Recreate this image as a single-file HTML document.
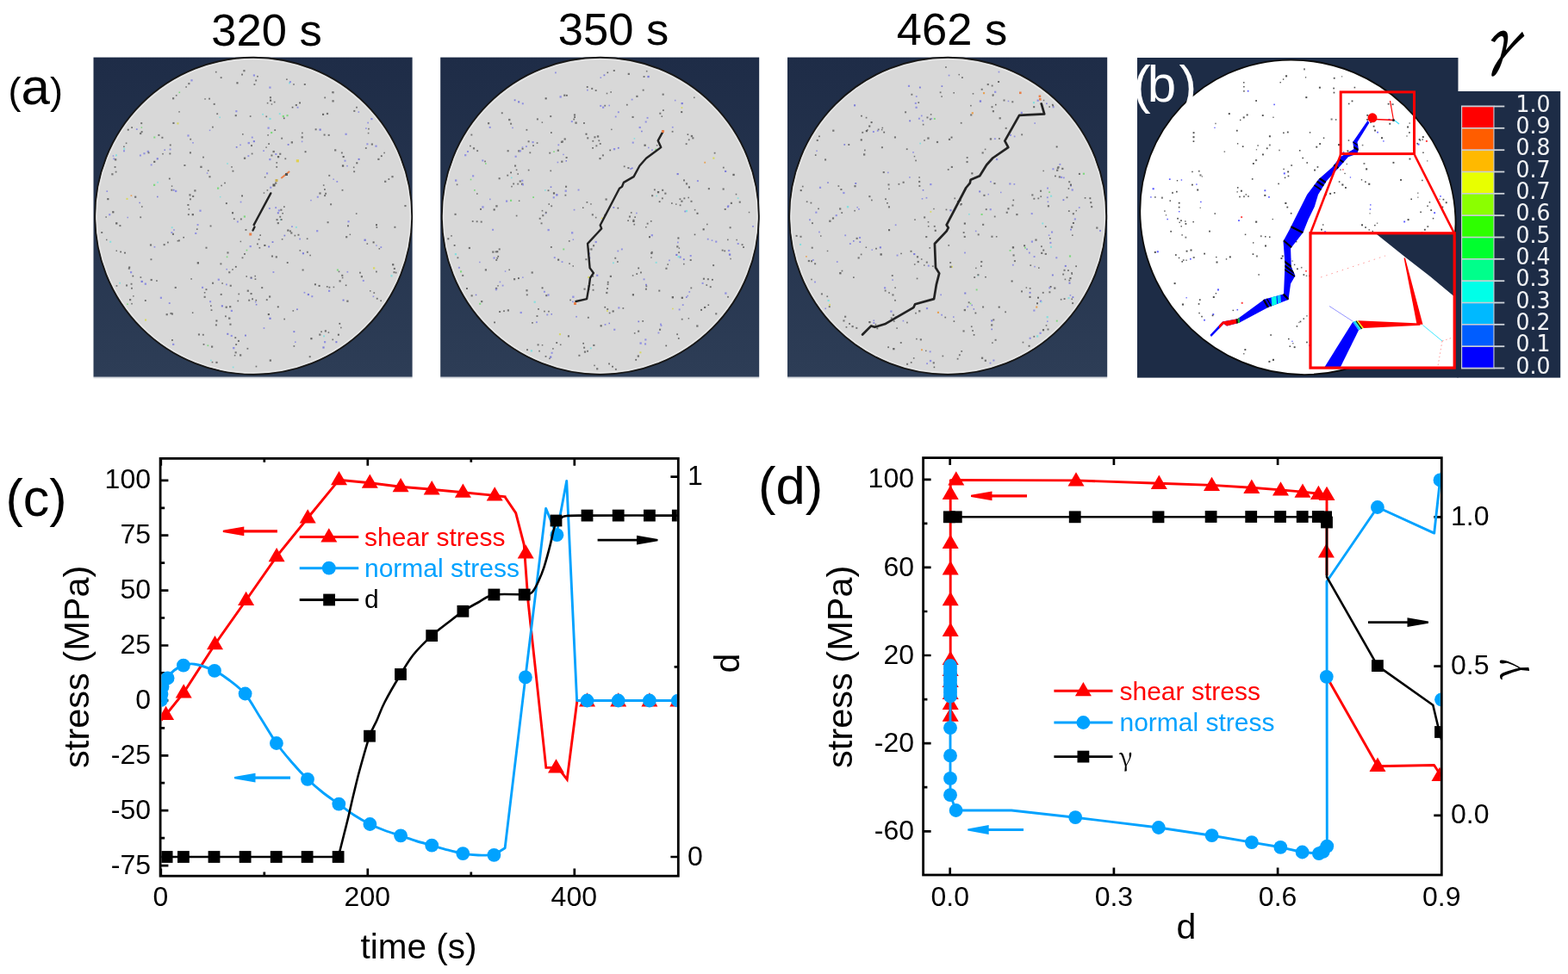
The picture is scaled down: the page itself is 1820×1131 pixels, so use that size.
<!DOCTYPE html>
<html><head><meta charset="utf-8"><title>Crack propagation figure</title>
<style>
html,body{margin:0;padding:0;background:#fff;}
body{width:1820px;height:1131px;overflow:hidden;}
svg{display:block;}
</style></head><body>
<svg width="1820" height="1131" viewBox="0 0 1820 1131">
<defs>
<linearGradient id="bg" x1="0" y1="0" x2="0" y2="1"><stop offset="0" stop-color="#1e2c47"/><stop offset="1" stop-color="#2d3d56"/></linearGradient>
<clipPath id="clipC"><rect x="187.4" y="533.8" width="598.4" height="481.9"/></clipPath>
<clipPath id="clipD"><rect x="1073" y="533" width="598.9" height="481.6"/></clipPath>
<clipPath id="clipB"><rect x="1320" y="67" width="372" height="371.6"/></clipPath>
</defs>
<rect x="0" y="0" width="1820" height="1131" fill="#ffffff"/>
<g font-family="'Liberation Sans', Arial, sans-serif" fill="#000"><text x="309.5" y="52.5" font-size="52.5" text-anchor="middle">320 s</text><text x="712" y="51.5" font-size="52.5" text-anchor="middle">350 s</text><text x="1105" y="51.5" font-size="52.5" text-anchor="middle">462 s</text><text x="9.5" y="120.7"><tspan font-size="45">(</tspan><tspan font-size="60">a</tspan><tspan font-size="45">)</tspan></text></g>
<rect x="108.5" y="437.4" width="370.1" height="2" fill="#d3d6dc"/><rect x="108.5" y="66.6" width="370.1" height="371" fill="url(#bg)"/><circle cx="294.2" cy="250.8" r="184" fill="#d8d8d8" stroke="#161616" stroke-width="1.9"/><circle cx="294.2" cy="250.8" r="182" fill="none" stroke="#e8e8e8" stroke-width="1.2"/><rect x="262.4" y="311.9" width="1.6" height="1.6" fill="#9090e0"/><rect x="145.8" y="165.5" width="1.6" height="1.6" fill="#747474"/><rect x="390.9" y="312.5" width="2" height="2" fill="#7ed87e"/><rect x="254.9" y="227.9" width="1.5" height="1.5" fill="#86dede"/><rect x="353.6" y="175.3" width="1.9" height="1.9" fill="#646464"/><rect x="269.5" y="197.7" width="1.9" height="1.9" fill="#747474"/><rect x="333.3" y="266.5" width="2.1" height="2.1" fill="#646464"/><rect x="337.2" y="269.4" width="2.2" height="2.2" fill="#747474"/><rect x="341.5" y="272.7" width="1.7" height="1.7" fill="#747474"/><rect x="360.3" y="392.1" width="2.2" height="2.2" fill="#646464"/><rect x="281" y="155.1" width="1.6" height="1.6" fill="#747474"/><rect x="199" y="394" width="1.9" height="1.9" fill="#747474"/><rect x="200.1" y="398.8" width="2.2" height="2.2" fill="#9090e0"/><rect x="236.8" y="339" width="1.6" height="1.6" fill="#747474"/><rect x="236.6" y="343.8" width="2.1" height="2.1" fill="#747474"/><rect x="433" y="310.3" width="2.2" height="2.2" fill="#d8d860"/><rect x="436" y="314.6" width="1.8" height="1.8" fill="#747474"/><rect x="280.1" y="226.5" width="1.9" height="1.9" fill="#646464"/><rect x="312" y="343.4" width="2.2" height="2.2" fill="#747474"/><rect x="308.8" y="347.2" width="1.9" height="1.9" fill="#747474"/><rect x="133.7" y="198.7" width="1.8" height="1.8" fill="#747474"/><rect x="129.3" y="201.2" width="2.2" height="2.2" fill="#747474"/><rect x="360.2" y="231.9" width="1.5" height="1.5" fill="#9090e0"/><rect x="330.4" y="183.4" width="1.8" height="1.8" fill="#747474"/><rect x="134" y="179.3" width="2" height="2" fill="#86dede"/><rect x="131.3" y="183.5" width="1.9" height="1.9" fill="#9090e0"/><rect x="413.1" y="123.8" width="1.8" height="1.8" fill="#747474"/><rect x="410.3" y="127.9" width="2" height="2" fill="#747474"/><rect x="335.9" y="267.4" width="2" height="2" fill="#747474"/><rect x="400.8" y="330.5" width="1.6" height="1.6" fill="#646464"/><rect x="321.8" y="355.4" width="1.9" height="1.9" fill="#646464"/><rect x="386.6" y="332.6" width="1.6" height="1.6" fill="#747474"/><rect x="381.5" y="332.8" width="1.8" height="1.8" fill="#747474"/><rect x="278" y="411.3" width="2.3" height="2.3" fill="#747474"/><rect x="197.5" y="362.9" width="2" height="2" fill="#747474"/><rect x="192.6" y="364.1" width="2.2" height="2.2" fill="#747474"/><rect x="124.3" y="230.1" width="2.1" height="2.1" fill="#646464"/><rect x="252.7" y="323.6" width="2.2" height="2.2" fill="#9090e0"/><rect x="287.6" y="164.9" width="2.3" height="2.3" fill="#9090e0"/><rect x="323.8" y="131.2" width="1.9" height="1.9" fill="#86dede"/><rect x="327.7" y="133.9" width="2.3" height="2.3" fill="#7ed87e"/><rect x="396.6" y="219.9" width="1.8" height="1.8" fill="#747474"/><rect x="117.2" y="269" width="2" height="2" fill="#747474"/><rect x="309" y="200.3" width="2.1" height="2.1" fill="#9090e0"/><rect x="306.8" y="204.9" width="1.6" height="1.6" fill="#747474"/><rect x="318.3" y="150.2" width="1.8" height="1.8" fill="#747474"/><rect x="314.1" y="153" width="2.1" height="2.1" fill="#7ed87e"/><rect x="310.3" y="156.1" width="1.6" height="1.6" fill="#747474"/><rect x="391.9" y="387.7" width="2" height="2" fill="#646464"/><rect x="123" y="277.7" width="1.5" height="1.5" fill="#747474"/><rect x="127.2" y="279.8" width="2" height="2" fill="#86dede"/><rect x="123.4" y="221.3" width="1.7" height="1.7" fill="#9090e0"/><rect x="292.1" y="346.3" width="1.9" height="1.9" fill="#747474"/><rect x="295.9" y="349.9" width="1.5" height="1.5" fill="#9090e0"/><rect x="282.3" y="81.1" width="2.2" height="2.2" fill="#747474"/><rect x="280.1" y="85.6" width="1.9" height="1.9" fill="#747474"/><rect x="269" y="246.2" width="2.1" height="2.1" fill="#646464"/><rect x="332.8" y="304.1" width="1.8" height="1.8" fill="#646464"/><rect x="161.4" y="234.7" width="1.5" height="1.5" fill="#7c7cd8"/><rect x="306.3" y="283.9" width="2.1" height="2.1" fill="#646464"/><rect x="311.2" y="285.5" width="1.9" height="1.9" fill="#7c7cd8"/><rect x="196.8" y="167.5" width="1.9" height="1.9" fill="#747474"/><rect x="196.6" y="172.5" width="1.9" height="1.9" fill="#9090e0"/><rect x="196.4" y="177.5" width="1.9" height="1.9" fill="#747474"/><rect x="415.5" y="129.3" width="1.6" height="1.6" fill="#9090e0"/><rect x="378.9" y="332" width="1.7" height="1.7" fill="#747474"/><rect x="272.9" y="308.9" width="1.8" height="1.8" fill="#646464"/><rect x="269.2" y="312.2" width="1.6" height="1.6" fill="#747474"/><rect x="265.2" y="315.2" width="2.1" height="2.1" fill="#747474"/><rect x="432.6" y="343.5" width="1.6" height="1.6" fill="#9090e0"/><rect x="436.8" y="345.8" width="1.9" height="1.9" fill="#747474"/><rect x="441.3" y="348.4" width="1.7" height="1.7" fill="#747474"/><rect x="229.9" y="387.4" width="2.1" height="2.1" fill="#747474"/><rect x="234.9" y="387.8" width="1.9" height="1.9" fill="#747474"/><rect x="244.1" y="417.7" width="1.6" height="1.6" fill="#86dede"/><rect x="289.6" y="285" width="2.2" height="2.2" fill="#9090e0"/><rect x="378.9" y="130.9" width="2.2" height="2.2" fill="#747474"/><rect x="374" y="131.8" width="2.1" height="2.1" fill="#646464"/><rect x="329.5" y="272.7" width="1.7" height="1.7" fill="#7c7cd8"/><rect x="326.8" y="277" width="1.6" height="1.6" fill="#747474"/><rect x="284" y="388.6" width="1.9" height="1.9" fill="#7c7cd8"/><rect x="222.9" y="362.4" width="1.5" height="1.5" fill="#646464"/><rect x="249.9" y="82.8" width="1.7" height="1.7" fill="#747474"/><rect x="255.7" y="340.9" width="2" height="2" fill="#747474"/><rect x="272.6" y="408.3" width="2.1" height="2.1" fill="#747474"/><rect x="219.4" y="225.3" width="2.2" height="2.2" fill="#747474"/><rect x="220" y="230.4" width="1.9" height="1.9" fill="#747474"/><rect x="350" y="153.6" width="1.7" height="1.7" fill="#747474"/><rect x="349.6" y="158.3" width="2.2" height="2.2" fill="#747474"/><rect x="349.8" y="163.6" width="1.6" height="1.6" fill="#9090e0"/><rect x="469.4" y="238" width="2.1" height="2.1" fill="#747474"/><rect x="290.6" y="321.8" width="2" height="2" fill="#7c7cd8"/><rect x="295.6" y="323.3" width="1.7" height="1.7" fill="#747474"/><rect x="261" y="366.4" width="1.8" height="1.8" fill="#747474"/><rect x="265.1" y="368.5" width="2.3" height="2.3" fill="#747474"/><rect x="278.6" y="279.7" width="1.5" height="1.5" fill="#747474"/><rect x="202.7" y="332.9" width="2.1" height="2.1" fill="#747474"/><rect x="429" y="337.1" width="1.5" height="1.5" fill="#747474"/><rect x="433.4" y="339.2" width="1.7" height="1.7" fill="#747474"/><rect x="181.7" y="183.3" width="2.1" height="2.1" fill="#7c7cd8"/><rect x="178.2" y="186.8" width="2.1" height="2.1" fill="#646464"/><rect x="174.7" y="190.5" width="1.9" height="1.9" fill="#9090e0"/><rect x="263.3" y="386.8" width="2" height="2" fill="#7c7cd8"/><rect x="267.7" y="388.9" width="2.1" height="2.1" fill="#9090e0"/><rect x="272.3" y="391.2" width="1.9" height="1.9" fill="#747474"/><rect x="130.2" y="245.2" width="2.2" height="2.2" fill="#646464"/><rect x="126.2" y="248.2" width="2.1" height="2.1" fill="#9090e0"/><rect x="122.4" y="251.3" width="1.5" height="1.5" fill="#747474"/><rect x="364.9" y="329.3" width="2" height="2" fill="#646464"/><rect x="369.6" y="330.9" width="2" height="2" fill="#646464"/><rect x="282.8" y="250.4" width="2.2" height="2.2" fill="#7ed87e"/><rect x="278.9" y="253.5" width="1.9" height="1.9" fill="#747474"/><rect x="274.9" y="256.5" width="1.9" height="1.9" fill="#9090e0"/><rect x="352.8" y="97" width="2" height="2" fill="#747474"/><rect x="134.5" y="290.5" width="1.5" height="1.5" fill="#747474"/><rect x="139.3" y="291.6" width="1.7" height="1.7" fill="#646464"/><rect x="144.1" y="292.7" width="1.8" height="1.8" fill="#646464"/><rect x="207.3" y="129.1" width="1.5" height="1.5" fill="#747474"/><rect x="275.9" y="394.9" width="2.1" height="2.1" fill="#747474"/><rect x="273.2" y="399.1" width="1.9" height="1.9" fill="#747474"/><rect x="270.1" y="403" width="2.3" height="2.3" fill="#9090e0"/><rect x="198.4" y="219.7" width="1.9" height="1.9" fill="#747474"/><rect x="203" y="220.8" width="2.3" height="2.3" fill="#9090e0"/><rect x="205.6" y="278.9" width="1.6" height="1.6" fill="#747474"/><rect x="291.8" y="158.6" width="1.9" height="1.9" fill="#9090e0"/><rect x="293.8" y="163.1" width="2.1" height="2.1" fill="#7c7cd8"/><rect x="312.7" y="417.4" width="2.3" height="2.3" fill="#747474"/><rect x="246" y="146.7" width="1.8" height="1.8" fill="#747474"/><rect x="242.8" y="150.6" width="1.5" height="1.5" fill="#9090e0"/><rect x="293.8" y="86.4" width="2.2" height="2.2" fill="#9090e0"/><rect x="266.1" y="355.1" width="2.2" height="2.2" fill="#747474"/><rect x="267.8" y="359.8" width="2.2" height="2.2" fill="#9090e0"/><rect x="285.6" y="289.7" width="1.7" height="1.7" fill="#7ed87e"/><rect x="283" y="294" width="1.9" height="1.9" fill="#747474"/><rect x="280.6" y="298.4" width="1.8" height="1.8" fill="#747474"/><rect x="454.4" y="204.1" width="2.2" height="2.2" fill="#747474"/><rect x="450.5" y="207.2" width="1.7" height="1.7" fill="#646464"/><rect x="446.1" y="209.7" width="2.2" height="2.2" fill="#747474"/><rect x="174.6" y="323.9" width="2.2" height="2.2" fill="#747474"/><rect x="223.1" y="226.9" width="2.1" height="2.1" fill="#747474"/><rect x="383.1" y="236.3" width="2" height="2" fill="#747474"/><rect x="397.6" y="347.6" width="1.9" height="1.9" fill="#7c7cd8"/><rect x="402.3" y="348.6" width="2.2" height="2.2" fill="#747474"/><rect x="412.9" y="247.3" width="1.6" height="1.6" fill="#747474"/><rect x="198.8" y="215.4" width="1.5" height="1.5" fill="#747474"/><rect x="200.7" y="219.8" width="1.8" height="1.8" fill="#7c7cd8"/><rect x="291" y="168.1" width="2" height="2" fill="#747474"/><rect x="198.8" y="363.4" width="2.2" height="2.2" fill="#747474"/><rect x="185.8" y="344.7" width="2.2" height="2.2" fill="#9090e0"/><rect x="324.9" y="254.2" width="1.9" height="1.9" fill="#86dede"/><rect x="321.7" y="258" width="2.2" height="2.2" fill="#747474"/><rect x="409.9" y="193.5" width="1.6" height="1.6" fill="#747474"/><rect x="410.2" y="198.3" width="1.9" height="1.9" fill="#747474"/><rect x="221.4" y="92.2" width="2.2" height="2.2" fill="#9090e0"/><rect x="218.3" y="96.1" width="2.1" height="2.1" fill="#747474"/><rect x="215.3" y="100.2" width="1.6" height="1.6" fill="#747474"/><rect x="261.9" y="235.2" width="1.9" height="1.9" fill="#646464"/><rect x="149.2" y="309.5" width="2" height="2" fill="#646464"/><rect x="228.7" y="304.2" width="2.3" height="2.3" fill="#646464"/><rect x="275.4" y="348.6" width="1.7" height="1.7" fill="#747474"/><rect x="296.6" y="424.7" width="1.7" height="1.7" fill="#747474"/><rect x="400.5" y="154.7" width="2.2" height="2.2" fill="#9090e0"/><rect x="298" y="282.5" width="1.8" height="1.8" fill="#747474"/><rect x="300.5" y="286.9" width="1.7" height="1.7" fill="#747474"/><rect x="319.1" y="211.5" width="2.2" height="2.2" fill="#747474"/><rect x="303.2" y="333.1" width="2" height="2" fill="#747474"/><rect x="163.2" y="142.1" width="2" height="2" fill="#747474"/><rect x="163.6" y="147.3" width="1.5" height="1.5" fill="#7ed87e"/><rect x="163.6" y="152.1" width="2" height="2" fill="#747474"/><rect x="163.6" y="325.8" width="2.2" height="2.2" fill="#7c7cd8"/><rect x="167.7" y="328.5" width="2.3" height="2.3" fill="#9090e0"/><rect x="386.4" y="207.4" width="1.5" height="1.5" fill="#9090e0"/><rect x="390.4" y="210" width="1.8" height="1.8" fill="#9090e0"/><rect x="221.3" y="323.1" width="1.6" height="1.6" fill="#747474"/><rect x="146" y="330.4" width="2.1" height="2.1" fill="#747474"/><rect x="235.6" y="399" width="1.8" height="1.8" fill="#747474"/><rect x="240.5" y="400.4" width="1.7" height="1.7" fill="#7ed87e"/><rect x="245" y="401.5" width="2.2" height="2.2" fill="#747474"/><rect x="405.6" y="271.6" width="1.5" height="1.5" fill="#747474"/><rect x="401.1" y="274.1" width="2.2" height="2.2" fill="#747474"/><rect x="286.5" y="403.9" width="1.8" height="1.8" fill="#747474"/><rect x="329" y="239.3" width="1.7" height="1.7" fill="#747474"/><rect x="325.3" y="242.7" width="2.1" height="2.1" fill="#747474"/><rect x="321.8" y="246.3" width="2" height="2" fill="#7c7cd8"/><rect x="319.2" y="240.2" width="1.9" height="1.9" fill="#9090e0"/><rect x="322.8" y="243.4" width="2.1" height="2.1" fill="#9090e0"/><rect x="430.8" y="166.5" width="2.1" height="2.1" fill="#747474"/><rect x="435.4" y="168.6" width="2.2" height="2.2" fill="#9090e0"/><rect x="312.9" y="112.2" width="2.1" height="2.1" fill="#747474"/><rect x="188.2" y="177.9" width="1.6" height="1.6" fill="#747474"/><rect x="422.5" y="277.6" width="2.3" height="2.3" fill="#7c7cd8"/><rect x="425.5" y="282.3" width="1.6" height="1.6" fill="#747474"/><rect x="396.8" y="321.7" width="1.6" height="1.6" fill="#747474"/><rect x="393.5" y="325.3" width="2.2" height="2.2" fill="#747474"/><rect x="305.6" y="380.2" width="1.7" height="1.7" fill="#9090e0"/><rect x="276.4" y="340.6" width="1.7" height="1.7" fill="#747474"/><rect x="295.4" y="319.8" width="1.6" height="1.6" fill="#747474"/><rect x="290.7" y="321.5" width="1.7" height="1.7" fill="#747474"/><rect x="151.6" y="226.4" width="1.6" height="1.6" fill="#e8a050"/><rect x="156.1" y="227.6" width="2.2" height="2.2" fill="#747474"/><rect x="385.2" y="106.4" width="1.5" height="1.5" fill="#747474"/><rect x="162.1" y="153.9" width="2.2" height="2.2" fill="#747474"/><rect x="206.9" y="278.4" width="2" height="2" fill="#747474"/><rect x="232.3" y="192.7" width="2.3" height="2.3" fill="#747474"/><rect x="441.4" y="286.2" width="1.8" height="1.8" fill="#9090e0"/><rect x="195.8" y="351.1" width="1.9" height="1.9" fill="#9090e0"/><rect x="345.5" y="271.8" width="1.9" height="1.9" fill="#747474"/><rect x="347.2" y="276.6" width="1.8" height="1.8" fill="#9090e0"/><rect x="269.8" y="425.6" width="1.7" height="1.7" fill="#86dede"/><rect x="195.9" y="206.6" width="1.8" height="1.8" fill="#646464"/><rect x="150" y="347" width="2.2" height="2.2" fill="#747474"/><rect x="154.1" y="343.1" width="1.5" height="1.5" fill="#747474"/><rect x="393.4" y="374.9" width="1.8" height="1.8" fill="#646464"/><rect x="395" y="379.7" width="1.6" height="1.6" fill="#747474"/><rect x="266.4" y="375.6" width="2.1" height="2.1" fill="#747474"/><rect x="335.1" y="95.5" width="1.9" height="1.9" fill="#86dede"/><rect x="455.1" y="306.2" width="2.2" height="2.2" fill="#646464"/><rect x="456.8" y="310.9" width="2.1" height="2.1" fill="#747474"/><rect x="458.7" y="315.7" width="1.8" height="1.8" fill="#747474"/><rect x="385.4" y="116.2" width="2.3" height="2.3" fill="#747474"/><rect x="352.6" y="338.9" width="1.7" height="1.7" fill="#9090e0"/><rect x="356.8" y="340.9" width="2.2" height="2.2" fill="#7c7cd8"/><rect x="361.3" y="343.2" width="2" height="2" fill="#9090e0"/><rect x="243.1" y="349.2" width="2" height="2" fill="#9090e0"/><rect x="244" y="354.3" width="1.7" height="1.7" fill="#747474"/><rect x="244.6" y="359.2" width="1.8" height="1.8" fill="#747474"/><rect x="217.9" y="248.2" width="1.9" height="1.9" fill="#747474"/><rect x="222.7" y="248.1" width="2.2" height="2.2" fill="#646464"/><rect x="376.3" y="112.5" width="1.8" height="1.8" fill="#747474"/><rect x="392.7" y="314.6" width="1.6" height="1.6" fill="#747474"/><rect x="381.3" y="202.9" width="1.9" height="1.9" fill="#747474"/><rect x="168" y="370.5" width="2.1" height="2.1" fill="#d8d860"/><rect x="324.2" y="177.7" width="2.1" height="2.1" fill="#747474"/><rect x="319.3" y="178" width="2" height="2" fill="#9090e0"/><rect x="278.2" y="167.5" width="1.6" height="1.6" fill="#9090e0"/><rect x="273.8" y="170" width="1.7" height="1.7" fill="#7c7cd8"/><rect x="320.4" y="188.1" width="1.7" height="1.7" fill="#747474"/><rect x="320.3" y="193" width="1.8" height="1.8" fill="#747474"/><rect x="367.1" y="267.1" width="2.2" height="2.2" fill="#9090e0"/><rect x="370.2" y="387.5" width="2.2" height="2.2" fill="#747474"/><rect x="375.1" y="389.4" width="1.9" height="1.9" fill="#86dede"/><rect x="146.5" y="229.9" width="2" height="2" fill="#d8d860"/><rect x="167.9" y="348.1" width="1.8" height="1.8" fill="#646464"/><rect x="304.2" y="131.9" width="1.7" height="1.7" fill="#86dede"/><rect x="308.4" y="134.5" width="1.7" height="1.7" fill="#747474"/><rect x="312.4" y="136.9" width="2.2" height="2.2" fill="#86dede"/><rect x="445.3" y="176.7" width="1.6" height="1.6" fill="#747474"/><rect x="441.9" y="180.3" width="1.8" height="1.8" fill="#646464"/><rect x="438.3" y="183.8" width="2.2" height="2.2" fill="#747474"/><rect x="350.6" y="312.5" width="2" height="2" fill="#747474"/><rect x="250.4" y="371.5" width="2" height="2" fill="#646464"/><rect x="249.9" y="376.4" width="2" height="2" fill="#747474"/><rect x="228.6" y="260.1" width="1.9" height="1.9" fill="#9090e0"/><rect x="355.8" y="276.4" width="1.7" height="1.7" fill="#747474"/><rect x="436" y="260.2" width="2" height="2" fill="#646464"/><rect x="190.5" y="173.4" width="1.5" height="1.5" fill="#7c7cd8"/><rect x="182" y="227.7" width="1.6" height="1.6" fill="#7c7cd8"/><rect x="183.4" y="155.9" width="2" height="2" fill="#747474"/><rect x="187.4" y="158.8" width="2" height="2" fill="#747474"/><rect x="321.9" y="181" width="2.3" height="2.3" fill="#646464"/><rect x="273.3" y="128.1" width="2.1" height="2.1" fill="#9090e0"/><rect x="272.7" y="133.1" width="2.1" height="2.1" fill="#747474"/><rect x="212.4" y="274.9" width="1.6" height="1.6" fill="#646464"/><rect x="426.3" y="141.7" width="1.7" height="1.7" fill="#9090e0"/><rect x="182.2" y="210.9" width="1.7" height="1.7" fill="#86dede"/><rect x="178" y="213.7" width="2.2" height="2.2" fill="#7ed87e"/><rect x="402.5" y="314.9" width="1.7" height="1.7" fill="#9090e0"/><rect x="385.4" y="393.5" width="1.7" height="1.7" fill="#747474"/><rect x="389.4" y="396.2" width="2" height="2" fill="#7c7cd8"/><rect x="242.1" y="113.7" width="1.9" height="1.9" fill="#747474"/><rect x="237.3" y="114.2" width="1.5" height="1.5" fill="#747474"/><rect x="376.1" y="226.1" width="2" height="2" fill="#747474"/><rect x="225.3" y="220.3" width="2.2" height="2.2" fill="#747474"/><rect x="255.4" y="305.4" width="2" height="2" fill="#747474"/><rect x="338.1" y="262.3" width="1.7" height="1.7" fill="#9090e0"/><rect x="342.9" y="262.9" width="1.9" height="1.9" fill="#86dede"/><rect x="207.5" y="106.5" width="1.6" height="1.6" fill="#7ed87e"/><rect x="203.9" y="110" width="1.6" height="1.6" fill="#747474"/><rect x="200" y="113.2" width="2.2" height="2.2" fill="#747474"/><rect x="347.1" y="118.5" width="1.9" height="1.9" fill="#646464"/><rect x="342.8" y="121" width="2.1" height="2.1" fill="#747474"/><rect x="338.7" y="123.8" width="1.7" height="1.7" fill="#646464"/><rect x="246" y="327.7" width="2.1" height="2.1" fill="#747474"/><rect x="425.4" y="166.3" width="2" height="2" fill="#9090e0"/><rect x="423.9" y="171.1" width="1.8" height="1.8" fill="#747474"/><rect x="148.8" y="310.8" width="2" height="2" fill="#747474"/><rect x="151" y="315.1" width="2.2" height="2.2" fill="#9090e0"/><rect x="153.5" y="319.7" width="1.7" height="1.7" fill="#646464"/><rect x="174.5" y="300.3" width="1.9" height="1.9" fill="#747474"/><rect x="134.1" y="258.2" width="2.3" height="2.3" fill="#646464"/><rect x="138.4" y="261.1" width="2" height="2" fill="#747474"/><rect x="380.6" y="385.3" width="1.6" height="1.6" fill="#747474"/><rect x="260.2" y="211.7" width="1.6" height="1.6" fill="#646464"/><rect x="256.3" y="214.7" width="1.6" height="1.6" fill="#747474"/><rect x="252" y="217.5" width="2.2" height="2.2" fill="#7ed87e"/><rect x="289.8" y="134.2" width="1.7" height="1.7" fill="#747474"/><rect x="395.9" y="176.5" width="1.9" height="1.9" fill="#747474"/><rect x="397.6" y="181" width="2.1" height="2.1" fill="#646464"/><rect x="399.5" y="185.7" width="2" height="2" fill="#9090e0"/><rect x="234" y="332.8" width="2.1" height="2.1" fill="#9090e0"/><rect x="238.5" y="335.2" width="1.9" height="1.9" fill="#747474"/><rect x="313" y="115.6" width="2.1" height="2.1" fill="#646464"/><rect x="317.8" y="117.7" width="1.7" height="1.7" fill="#747474"/><rect x="298.1" y="87.9" width="1.7" height="1.7" fill="#747474"/><rect x="296.2" y="92.5" width="1.9" height="1.9" fill="#747474"/><rect x="294.5" y="97.2" width="1.8" height="1.8" fill="#747474"/><rect x="358.7" y="413.2" width="2" height="2" fill="#747474"/><rect x="316.5" y="315.1" width="1.8" height="1.8" fill="#9090e0"/><rect x="340.4" y="384.2" width="1.9" height="1.9" fill="#7c7cd8"/><rect x="457.4" y="262.8" width="2" height="2" fill="#747474"/><rect x="227.9" y="265.3" width="1.7" height="1.7" fill="#747474"/><rect x="226.2" y="269.9" width="2.1" height="2.1" fill="#9090e0"/><rect x="170.7" y="174.8" width="2.2" height="2.2" fill="#9090e0"/><rect x="166.4" y="177.2" width="2.1" height="2.1" fill="#9090e0"/><rect x="161.9" y="179.5" width="2" height="2" fill="#9090e0"/><rect x="217.4" y="156.4" width="2.2" height="2.2" fill="#9090e0"/><rect x="220.3" y="160.8" width="1.8" height="1.8" fill="#747474"/><rect x="223.2" y="165" width="1.6" height="1.6" fill="#9090e0"/><rect x="365.6" y="149.3" width="2" height="2" fill="#747474"/><rect x="370.5" y="149.5" width="2.2" height="2.2" fill="#7c7cd8"/><rect x="284.5" y="266" width="1.9" height="1.9" fill="#747474"/><rect x="376.8" y="383.3" width="2.2" height="2.2" fill="#747474"/><rect x="372.2" y="384.4" width="1.7" height="1.7" fill="#747474"/><rect x="270.9" y="253.3" width="1.8" height="1.8" fill="#747474"/><rect x="370.4" y="223.4" width="2.2" height="2.2" fill="#747474"/><rect x="367.8" y="227.7" width="2" height="2" fill="#9090e0"/><rect x="235.1" y="181.7" width="1.8" height="1.8" fill="#747474"/><rect x="162.5" y="321.2" width="1.7" height="1.7" fill="#747474"/><rect x="152.2" y="351.9" width="1.6" height="1.6" fill="#747474"/><rect x="147.2" y="352.4" width="1.6" height="1.6" fill="#7ed87e"/><rect x="316.5" y="174.9" width="2.3" height="2.3" fill="#747474"/><rect x="314.4" y="179.5" width="2" height="2" fill="#747474"/><rect x="312.2" y="184" width="2.2" height="2.2" fill="#9090e0"/><rect x="198.4" y="269.1" width="1.9" height="1.9" fill="#9090e0"/><rect x="311.2" y="166.2" width="1.8" height="1.8" fill="#747474"/><rect x="308.3" y="170.4" width="1.5" height="1.5" fill="#747474"/><rect x="305.2" y="174.3" width="1.7" height="1.7" fill="#9090e0"/><rect x="296.5" y="347.9" width="1.6" height="1.6" fill="#646464"/><rect x="296.8" y="352.9" width="1.6" height="1.6" fill="#7c7cd8"/><rect x="256.8" y="354.3" width="2.1" height="2.1" fill="#7c7cd8"/><rect x="261.6" y="355.6" width="2.2" height="2.2" fill="#747474"/><rect x="278.7" y="233.7" width="1.7" height="1.7" fill="#9090e0"/><rect x="347.5" y="290.1" width="1.6" height="1.6" fill="#747474"/><rect x="350.9" y="293.2" width="2.1" height="2.1" fill="#7c7cd8"/><rect x="376" y="396.1" width="2.2" height="2.2" fill="#9090e0"/><rect x="332.1" y="91.4" width="1.6" height="1.6" fill="#747474"/><rect x="335.9" y="94.1" width="2" height="2" fill="#9090e0"/><rect x="340.2" y="97.2" width="1.6" height="1.6" fill="#747474"/><rect x="151.6" y="328.8" width="1.9" height="1.9" fill="#747474"/><rect x="152" y="333.8" width="1.9" height="1.9" fill="#747474"/><rect x="162.3" y="251.4" width="1.8" height="1.8" fill="#747474"/><rect x="251.3" y="131.3" width="1.8" height="1.8" fill="#747474"/><rect x="254.4" y="135.5" width="1.6" height="1.6" fill="#86dede"/><rect x="200.4" y="141.9" width="2.1" height="2.1" fill="#747474"/><rect x="205.4" y="142.3" width="2.1" height="2.1" fill="#d8d860"/><rect x="396.2" y="318.8" width="2.1" height="2.1" fill="#747474"/><rect x="219.9" y="176.3" width="2.1" height="2.1" fill="#747474"/><rect x="132.6" y="193" width="1.9" height="1.9" fill="#747474"/><rect x="337.7" y="164.2" width="2.3" height="2.3" fill="#747474"/><rect x="333.7" y="167" width="1.8" height="1.8" fill="#7c7cd8"/><rect x="329.3" y="369.7" width="1.7" height="1.7" fill="#747474"/><rect x="171.6" y="176.4" width="1.9" height="1.9" fill="#747474"/><rect x="181.1" y="325.2" width="1.7" height="1.7" fill="#747474"/><rect x="415.6" y="183.9" width="2" height="2" fill="#7c7cd8"/><rect x="413.3" y="188.3" width="2" height="2" fill="#646464"/><rect x="247.7" y="119.9" width="2" height="2" fill="#747474"/><rect x="240.9" y="197.3" width="1.6" height="1.6" fill="#747474"/><rect x="311.9" y="241.1" width="1.9" height="1.9" fill="#9090e0"/><rect x="288.2" y="347.7" width="2" height="2" fill="#747474"/><rect x="143.1" y="169.5" width="1.6" height="1.6" fill="#747474"/><rect x="143" y="174.3" width="2" height="2" fill="#9090e0"/><rect x="396.9" y="191.4" width="2.3" height="2.3" fill="#646464"/><rect x="402.2" y="191.9" width="1.6" height="1.6" fill="#9090e0"/><rect x="309.8" y="118.9" width="1.6" height="1.6" fill="#747474"/><rect x="314.7" y="120.3" width="1.5" height="1.5" fill="#747474"/><rect x="268.2" y="193.1" width="1.6" height="1.6" fill="#747474"/><rect x="201.2" y="266.2" width="1.6" height="1.6" fill="#9090e0"/><rect x="199.9" y="270.8" width="2.1" height="2.1" fill="#747474"/><rect x="255.7" y="89.2" width="1.9" height="1.9" fill="#747474"/><rect x="147.5" y="251.8" width="1.5" height="1.5" fill="#9090e0"/><rect x="436.5" y="263.2" width="1.7" height="1.7" fill="#747474"/><rect x="152.2" y="147.2" width="1.8" height="1.8" fill="#747474"/><rect x="147.8" y="149.7" width="1.9" height="1.9" fill="#646464"/><rect x="263.2" y="189.2" width="1.6" height="1.6" fill="#86dede"/><rect x="332.5" y="133.1" width="2.1" height="2.1" fill="#7ed87e"/><rect x="328.9" y="136.5" width="1.7" height="1.7" fill="#646464"/><rect x="456.5" y="315.2" width="2" height="2" fill="#747474"/><rect x="453.4" y="319.2" width="2.2" height="2.2" fill="#86dede"/><rect x="213.4" y="191" width="2" height="2" fill="#747474"/><rect x="157.9" y="149.2" width="1.8" height="1.8" fill="#9090e0"/><rect x="285.4" y="320.2" width="1.6" height="1.6" fill="#747474"/><rect x="430.3" y="137" width="2.2" height="2.2" fill="#9090e0"/><rect x="263.4" y="292.4" width="2.1" height="2.1" fill="#747474"/><rect x="262.7" y="297.5" width="1.7" height="1.7" fill="#7ed87e"/><rect x="178.3" y="158.5" width="2" height="2" fill="#7ed87e"/><rect x="403.5" y="256.2" width="2.1" height="2.1" fill="#9090e0"/><rect x="403" y="261.3" width="2" height="2" fill="#747474"/><rect x="427.1" y="148.8" width="1.7" height="1.7" fill="#747474"/><rect x="426.8" y="153.8" width="1.6" height="1.6" fill="#747474"/><rect x="326.2" y="159.7" width="1.9" height="1.9" fill="#747474"/><rect x="315.6" y="280.2" width="1.8" height="1.8" fill="#7c7cd8"/><rect x="243.6" y="261.5" width="1.9" height="1.9" fill="#747474"/><rect x="325.6" y="254" width="2" height="2" fill="#747474"/><rect x="320.5" y="254.1" width="2.1" height="2.1" fill="#747474"/><rect x="138.3" y="327.8" width="1.7" height="1.7" fill="#86dede"/><rect x="134.6" y="331.1" width="1.7" height="1.7" fill="#747474"/><rect x="314.9" y="296.5" width="2.1" height="2.1" fill="#747474"/><rect x="319.7" y="297.3" width="2.2" height="2.2" fill="#747474"/><rect x="424.1" y="148.3" width="1.6" height="1.6" fill="#9090e0"/><rect x="257.3" y="328.2" width="1.6" height="1.6" fill="#747474"/><rect x="262" y="329.5" width="1.8" height="1.8" fill="#9090e0"/><rect x="266.7" y="330.7" width="2.1" height="2.1" fill="#747474"/><rect x="374.4" y="402.4" width="2.2" height="2.2" fill="#7c7cd8"/><rect x="313.2" y="216.7" width="2.1" height="2.1" fill="#9090e0"/><rect x="309.6" y="220.1" width="1.6" height="1.6" fill="#747474"/><rect x="305.7" y="223.3" width="1.5" height="1.5" fill="#747474"/><rect x="342" y="396.4" width="1.6" height="1.6" fill="#9090e0"/><rect x="340.5" y="401.1" width="1.7" height="1.7" fill="#747474"/><rect x="381" y="336.7" width="2.2" height="2.2" fill="#9090e0"/><rect x="388.1" y="173.3" width="2.2" height="2.2" fill="#747474"/><rect x="417" y="315.7" width="1.9" height="1.9" fill="#747474"/><rect x="418.8" y="320.1" width="2.2" height="2.2" fill="#747474"/><rect x="420.8" y="324.9" width="2" height="2" fill="#9090e0"/><rect x="194" y="280.6" width="1.8" height="1.8" fill="#747474"/><rect x="189.6" y="283.1" width="2.1" height="2.1" fill="#747474"/><rect x="344.1" y="358.4" width="1.7" height="1.7" fill="#7c7cd8"/><rect x="339.5" y="360.1" width="1.6" height="1.6" fill="#747474"/><rect x="271.8" y="411.9" width="1.6" height="1.6" fill="#747474"/><rect x="173.9" y="283.4" width="2.2" height="2.2" fill="#747474"/><rect x="178.6" y="285.9" width="1.7" height="1.7" fill="#9090e0"/><rect x="198.8" y="263.3" width="1.8" height="1.8" fill="#86dede"/><rect x="286.7" y="336.6" width="2.2" height="2.2" fill="#747474"/><rect x="290.5" y="340" width="2.1" height="2.1" fill="#747474"/><rect x="245.7" y="419.8" width="1.6" height="1.6" fill="#747474"/><rect x="250.4" y="419.8" width="2.2" height="2.2" fill="#747474"/><rect x="217.4" y="237" width="2" height="2" fill="#747474"/><rect x="218.6" y="242.1" width="1.6" height="1.6" fill="#747474"/><rect x="312.3" y="100.5" width="2.2" height="2.2" fill="#9090e0"/><rect x="274.4" y="95.3" width="2.1" height="2.1" fill="#646464"/><rect x="344.6" y="123.8" width="1.9" height="1.9" fill="#9090e0"/><rect x="385.5" y="106.2" width="2.2" height="2.2" fill="#747474"/><rect x="375.6" y="155.6" width="2" height="2" fill="#747474"/><rect x="380.7" y="155.9" width="2" height="2" fill="#747474"/><rect x="327.4" y="247" width="1.5" height="1.5" fill="#646464"/><rect x="324.3" y="250.8" width="1.9" height="1.9" fill="#747474"/><rect x="231.4" y="243.6" width="2.2" height="2.2" fill="#9090e0"/><rect x="143.3" y="171.9" width="1.9" height="1.9" fill="#86dede"/><rect x="164" y="239.2" width="1.6" height="1.6" fill="#747474"/><rect x="239.8" y="200.3" width="1.5" height="1.5" fill="#9090e0"/><rect x="242.4" y="204.2" width="2.1" height="2.1" fill="#747474"/><rect x="301.3" y="272.3" width="1.7" height="1.7" fill="#747474"/><rect x="299.7" y="277" width="1.8" height="1.8" fill="#747474"/><rect x="355.9" y="291.8" width="1.9" height="1.9" fill="#747474"/><rect x="359.3" y="295.7" width="1.6" height="1.6" fill="#747474"/><rect x="238.5" y="286.7" width="2" height="2" fill="#747474"/><rect x="291.7" y="177.6" width="1.8" height="1.8" fill="#747474"/><rect x="287.4" y="180.2" width="1.9" height="1.9" fill="#9090e0"/><rect x="282.9" y="182.6" width="2.3" height="2.3" fill="#747474"/><rect x="310.5" y="147.5" width="2.2" height="2.2" fill="#9090e0"/><rect x="130.7" y="180.3" width="1.5" height="1.5" fill="#9090e0"/><rect x="133" y="184.2" width="2.3" height="2.3" fill="#747474"/><rect x="374.9" y="214.3" width="1.6" height="1.6" fill="#747474"/><rect x="376" y="219.1" width="1.8" height="1.8" fill="#747474"/><rect x="377.1" y="223.8" width="2" height="2" fill="#747474"/><rect x="310.8" y="364" width="2.1" height="2.1" fill="#646464"/><rect x="312.4" y="368.7" width="2.2" height="2.2" fill="#7c7cd8"/><rect x="432.6" y="280.4" width="2" height="2" fill="#646464"/><rect x="436.2" y="284.3" width="1.5" height="1.5" fill="#9090e0"/><rect x="439.5" y="288" width="1.6" height="1.6" fill="#747474"/><rect x="379.6" y="257.2" width="2" height="2" fill="#747474"/><path d="M314.3 224.4 L294.7 261.1" fill="none" stroke="#222222" stroke-width="2.4" stroke-linejoin="round" stroke-linecap="round"/><path d="M295.5 263.5 L293.5 267.5" fill="none" stroke="#222222" stroke-width="2.4" stroke-linejoin="round" stroke-linecap="round"/><path d="M326.3 207.1 L336.1 199.1" stroke="#e8804a" stroke-width="2" fill="none"/><rect x="319.5" y="208" width="3" height="3" fill="#c9b050"/><rect x="316.5" y="213.5" width="3" height="3" fill="#555"/><rect x="343.8" y="185.2" width="3.2" height="3.2" fill="#e0d050"/><rect x="289.2" y="270.5" width="3" height="3" fill="#e8804a"/><rect x="331" y="201" width="3" height="3" fill="#555"/>
<rect x="511.2" y="437.4" width="370" height="2" fill="#d3d6dc"/><rect x="511.2" y="66.6" width="370" height="371" fill="url(#bg)"/><circle cx="696.8" cy="250.8" r="184" fill="#d8d8d8" stroke="#161616" stroke-width="1.9"/><circle cx="696.8" cy="250.8" r="182" fill="none" stroke="#e8e8e8" stroke-width="1.2"/><rect x="796" y="344.3" width="1.6" height="1.6" fill="#7c7cd8"/><rect x="790.7" y="344.7" width="2.2" height="2.2" fill="#646464"/><rect x="577.4" y="296.9" width="1.7" height="1.7" fill="#646464"/><rect x="572.5" y="298.5" width="2.1" height="2.1" fill="#9090e0"/><rect x="668.2" y="366.9" width="1.7" height="1.7" fill="#9090e0"/><rect x="665.9" y="132.4" width="2.2" height="2.2" fill="#747474"/><rect x="665.3" y="137.6" width="1.8" height="1.8" fill="#747474"/><rect x="745.3" y="372" width="1.8" height="1.8" fill="#747474"/><rect x="740.4" y="372.5" width="1.7" height="1.7" fill="#7c7cd8"/><rect x="578.6" y="206.2" width="2.1" height="2.1" fill="#747474"/><rect x="720.9" y="288.5" width="1.9" height="1.9" fill="#9090e0"/><rect x="716.4" y="290.6" width="1.8" height="1.8" fill="#9090e0"/><rect x="706.4" y="121.7" width="1.6" height="1.6" fill="#9090e0"/><rect x="701.3" y="121.8" width="1.8" height="1.8" fill="#747474"/><rect x="696.2" y="121.9" width="2" height="2" fill="#9090e0"/><rect x="790.6" y="119" width="2.2" height="2.2" fill="#7c7cd8"/><rect x="790.6" y="124.2" width="1.7" height="1.7" fill="#d8d860"/><rect x="790.2" y="129.1" width="2" height="2" fill="#646464"/><rect x="662.8" y="140.1" width="2" height="2" fill="#9090e0"/><rect x="667.4" y="141.5" width="2.3" height="2.3" fill="#747474"/><rect x="592.2" y="199.5" width="1.8" height="1.8" fill="#646464"/><rect x="588.3" y="202.7" width="1.9" height="1.9" fill="#747474"/><rect x="679.5" y="154.7" width="2" height="2" fill="#646464"/><rect x="681.2" y="159.3" width="2.1" height="2.1" fill="#747474"/><rect x="805.8" y="242.9" width="1.6" height="1.6" fill="#747474"/><rect x="808.5" y="246.8" width="2" height="2" fill="#646464"/><rect x="841.2" y="339.4" width="2.3" height="2.3" fill="#9090e0"/><rect x="844.1" y="343.9" width="1.8" height="1.8" fill="#747474"/><rect x="711.5" y="240.1" width="1.7" height="1.7" fill="#7c7cd8"/><rect x="716.5" y="240.8" width="1.7" height="1.7" fill="#646464"/><rect x="610" y="169.2" width="1.8" height="1.8" fill="#9090e0"/><rect x="605.6" y="171.7" width="2" height="2" fill="#747474"/><rect x="601.2" y="174.2" width="2.3" height="2.3" fill="#747474"/><rect x="638.2" y="134.1" width="2" height="2" fill="#747474"/><rect x="758.9" y="219.4" width="1.9" height="1.9" fill="#747474"/><rect x="762.9" y="222" width="2.3" height="2.3" fill="#646464"/><rect x="624.1" y="358" width="1.8" height="1.8" fill="#747474"/><rect x="784.3" y="294.9" width="2.1" height="2.1" fill="#7c7cd8"/><rect x="788.4" y="297.4" width="2.3" height="2.3" fill="#9090e0"/><rect x="792.9" y="300.3" width="1.8" height="1.8" fill="#7c7cd8"/><rect x="749.1" y="329.8" width="1.8" height="1.8" fill="#7c7cd8"/><rect x="748.9" y="334.7" width="2" height="2" fill="#747474"/><rect x="801.4" y="333.5" width="1.8" height="1.8" fill="#747474"/><rect x="799.4" y="338.1" width="1.7" height="1.7" fill="#9090e0"/><rect x="797.5" y="342.8" width="1.5" height="1.5" fill="#9090e0"/><rect x="641.1" y="404.1" width="1.6" height="1.6" fill="#747474"/><rect x="639.6" y="408.8" width="2" height="2" fill="#9090e0"/><rect x="638.1" y="413.5" width="2.2" height="2.2" fill="#7c7cd8"/><rect x="628.7" y="243.9" width="1.6" height="1.6" fill="#747474"/><rect x="632.8" y="246.8" width="1.6" height="1.6" fill="#9090e0"/><rect x="755.3" y="293" width="2.1" height="2.1" fill="#646464"/><rect x="755.2" y="298.3" width="1.5" height="1.5" fill="#747474"/><rect x="709.1" y="149.6" width="1.5" height="1.5" fill="#747474"/><rect x="581.8" y="130.3" width="1.9" height="1.9" fill="#747474"/><rect x="664.6" y="277.5" width="1.5" height="1.5" fill="#9090e0"/><rect x="659.9" y="279.1" width="1.7" height="1.7" fill="#747474"/><rect x="707.8" y="319.8" width="2.2" height="2.2" fill="#747474"/><rect x="735.6" y="160.1" width="1.6" height="1.6" fill="#86dede"/><rect x="733.7" y="164.6" width="2" height="2" fill="#9090e0"/><rect x="597" y="191.5" width="2.1" height="2.1" fill="#747474"/><rect x="598.8" y="196.5" width="1.6" height="1.6" fill="#747474"/><rect x="600.4" y="201.2" width="1.6" height="1.6" fill="#747474"/><rect x="790.3" y="232.6" width="2.2" height="2.2" fill="#747474"/><rect x="622" y="373.3" width="1.8" height="1.8" fill="#9090e0"/><rect x="617.1" y="374" width="1.7" height="1.7" fill="#747474"/><rect x="677.5" y="334.6" width="2.1" height="2.1" fill="#747474"/><rect x="682.8" y="335.4" width="1.6" height="1.6" fill="#747474"/><rect x="687.6" y="335.8" width="1.9" height="1.9" fill="#747474"/><rect x="726.9" y="120.8" width="1.8" height="1.8" fill="#747474"/><rect x="677" y="142" width="1.9" height="1.9" fill="#747474"/><rect x="742.4" y="408.3" width="2" height="2" fill="#d8d860"/><rect x="739.7" y="412.4" width="2.3" height="2.3" fill="#747474"/><rect x="737.3" y="416.9" width="1.8" height="1.8" fill="#646464"/><rect x="632.8" y="245.8" width="1.9" height="1.9" fill="#747474"/><rect x="629.2" y="249.2" width="2.1" height="2.1" fill="#747474"/><rect x="625.7" y="252.8" width="2" height="2" fill="#747474"/><rect x="605.2" y="208.7" width="2.1" height="2.1" fill="#9090e0"/><rect x="704.8" y="326.8" width="1.8" height="1.8" fill="#646464"/><rect x="598.8" y="249.7" width="1.7" height="1.7" fill="#747474"/><rect x="741.6" y="146.9" width="2.2" height="2.2" fill="#9090e0"/><rect x="744.1" y="151.7" width="1.6" height="1.6" fill="#7c7cd8"/><rect x="690.6" y="279.9" width="2.2" height="2.2" fill="#9090e0"/><rect x="688" y="284.2" width="2.1" height="2.1" fill="#747474"/><rect x="685.2" y="288.3" width="2.3" height="2.3" fill="#747474"/><rect x="558.1" y="349" width="2.2" height="2.2" fill="#747474"/><rect x="680.8" y="100.1" width="1.8" height="1.8" fill="#646464"/><rect x="698.9" y="179.4" width="2" height="2" fill="#747474"/><rect x="695.4" y="183" width="2.2" height="2.2" fill="#747474"/><rect x="559.3" y="185.4" width="2" height="2" fill="#9090e0"/><rect x="563" y="189.2" width="1.6" height="1.6" fill="#7ed87e"/><rect x="708.4" y="106.2" width="1.5" height="1.5" fill="#646464"/><rect x="703.7" y="107.7" width="1.6" height="1.6" fill="#747474"/><rect x="716.9" y="170.9" width="1.8" height="1.8" fill="#7c7cd8"/><rect x="711.9" y="172" width="2.3" height="2.3" fill="#9090e0"/><rect x="707.4" y="173.6" width="1.7" height="1.7" fill="#646464"/><rect x="592" y="231.8" width="2.1" height="2.1" fill="#7ed87e"/><rect x="587" y="232.5" width="2.2" height="2.2" fill="#9090e0"/><rect x="612.6" y="163.3" width="2" height="2" fill="#747474"/><rect x="617.5" y="164.1" width="2.1" height="2.1" fill="#9090e0"/><rect x="622.7" y="165.2" width="1.7" height="1.7" fill="#747474"/><rect x="850.4" y="201.8" width="2.3" height="2.3" fill="#646464"/><rect x="610.5" y="149.9" width="1.8" height="1.8" fill="#747474"/><rect x="814.6" y="327.9" width="2" height="2" fill="#9090e0"/><rect x="819.4" y="330.2" width="1.7" height="1.7" fill="#747474"/><rect x="823.8" y="332.2" width="1.9" height="1.9" fill="#747474"/><rect x="793" y="208.4" width="2" height="2" fill="#747474"/><rect x="795.9" y="212.3" width="2.2" height="2.2" fill="#747474"/><rect x="798.9" y="216.4" width="2.1" height="2.1" fill="#646464"/><rect x="766.6" y="377.1" width="1.8" height="1.8" fill="#9090e0"/><rect x="765" y="381.7" width="2.1" height="2.1" fill="#747474"/><rect x="820" y="259.7" width="1.6" height="1.6" fill="#747474"/><rect x="632.6" y="413" width="1.8" height="1.8" fill="#747474"/><rect x="637.1" y="415.5" width="1.6" height="1.6" fill="#747474"/><rect x="873.1" y="262" width="1.8" height="1.8" fill="#9090e0"/><rect x="689.4" y="158.3" width="2.1" height="2.1" fill="#747474"/><rect x="687.4" y="162.9" width="1.8" height="1.8" fill="#747474"/><rect x="776.1" y="301.5" width="1.7" height="1.7" fill="#9090e0"/><rect x="774.4" y="306.3" width="1.6" height="1.6" fill="#747474"/><rect x="772.4" y="310.7" width="2.1" height="2.1" fill="#747474"/><rect x="747.5" y="167.6" width="2.2" height="2.2" fill="#646464"/><rect x="752" y="170.7" width="1.6" height="1.6" fill="#9090e0"/><rect x="756.1" y="173.4" width="1.7" height="1.7" fill="#9090e0"/><rect x="614.4" y="176.4" width="1.8" height="1.8" fill="#747474"/><rect x="593.2" y="215.8" width="1.6" height="1.6" fill="#747474"/><rect x="751.4" y="87.9" width="2.3" height="2.3" fill="#7c7cd8"/><rect x="746.6" y="88.1" width="1.9" height="1.9" fill="#747474"/><rect x="749.5" y="331.5" width="1.7" height="1.7" fill="#747474"/><rect x="787.7" y="358.5" width="1.9" height="1.9" fill="#9090e0"/><rect x="717.3" y="356.4" width="2.1" height="2.1" fill="#9090e0"/><rect x="722.5" y="357.1" width="1.7" height="1.7" fill="#747474"/><rect x="628.6" y="141.4" width="1.5" height="1.5" fill="#747474"/><rect x="767.9" y="229.4" width="1.9" height="1.9" fill="#747474"/><rect x="764.7" y="233.3" width="1.8" height="1.8" fill="#646464"/><rect x="713.3" y="298.8" width="1.9" height="1.9" fill="#747474"/><rect x="716.1" y="303.2" width="1.6" height="1.6" fill="#646464"/><rect x="582.7" y="330.7" width="1.8" height="1.8" fill="#9090e0"/><rect x="622.9" y="137.4" width="2" height="2" fill="#747474"/><rect x="664.1" y="349.5" width="1.7" height="1.7" fill="#9090e0"/><rect x="686.2" y="101.9" width="2" height="2" fill="#747474"/><rect x="690.7" y="104.1" width="1.9" height="1.9" fill="#747474"/><rect x="592.9" y="205.5" width="1.7" height="1.7" fill="#86dede"/><rect x="695.8" y="166" width="1.9" height="1.9" fill="#747474"/><rect x="691.4" y="168.4" width="1.9" height="1.9" fill="#747474"/><rect x="687.2" y="171" width="1.7" height="1.7" fill="#646464"/><rect x="641.9" y="223.3" width="2.2" height="2.2" fill="#646464"/><rect x="641.7" y="228.3" width="2.1" height="2.1" fill="#9090e0"/><rect x="779.7" y="344.1" width="2.3" height="2.3" fill="#646464"/><rect x="575.3" y="238.2" width="2.3" height="2.3" fill="#747474"/><rect x="572.6" y="242.4" width="2.1" height="2.1" fill="#646464"/><rect x="798.6" y="369" width="1.5" height="1.5" fill="#747474"/><rect x="644" y="83.5" width="1.8" height="1.8" fill="#9090e0"/><rect x="803.3" y="159.3" width="2.1" height="2.1" fill="#747474"/><rect x="798.8" y="161.4" width="1.8" height="1.8" fill="#747474"/><rect x="782.9" y="115.8" width="1.6" height="1.6" fill="#9090e0"/><rect x="588.8" y="359.3" width="2.2" height="2.2" fill="#747474"/><rect x="584.1" y="360.3" width="1.8" height="1.8" fill="#747474"/><rect x="579.1" y="361" width="2" height="2" fill="#747474"/><rect x="862.1" y="286.1" width="1.9" height="1.9" fill="#747474"/><rect x="767.5" y="134.4" width="1.6" height="1.6" fill="#747474"/><rect x="692.1" y="318.7" width="2.2" height="2.2" fill="#9090e0"/><rect x="687.4" y="320" width="1.7" height="1.7" fill="#646464"/><rect x="682.3" y="320.9" width="2.1" height="2.1" fill="#d8d860"/><rect x="681.9" y="367.8" width="1.9" height="1.9" fill="#747474"/><rect x="855.7" y="282" width="2" height="2" fill="#9090e0"/><rect x="860.6" y="283.2" width="1.9" height="1.9" fill="#747474"/><rect x="785.2" y="387.3" width="1.8" height="1.8" fill="#747474"/><rect x="786.9" y="392.1" width="1.7" height="1.7" fill="#646464"/><rect x="791.8" y="353.2" width="1.8" height="1.8" fill="#9090e0"/><rect x="526.7" y="284" width="1.8" height="1.8" fill="#646464"/><rect x="815.6" y="265.3" width="2.1" height="2.1" fill="#646464"/><rect x="764.3" y="336.6" width="2" height="2" fill="#747474"/><rect x="638.7" y="216.4" width="1.6" height="1.6" fill="#7c7cd8"/><rect x="635.6" y="220.3" width="1.8" height="1.8" fill="#747474"/><rect x="645.2" y="225.2" width="2.3" height="2.3" fill="#7c7cd8"/><rect x="654.6" y="160.4" width="2.2" height="2.2" fill="#747474"/><rect x="650.9" y="163.8" width="2.2" height="2.2" fill="#747474"/><rect x="647.4" y="167.4" width="1.8" height="1.8" fill="#9090e0"/><rect x="654.2" y="109.6" width="2.2" height="2.2" fill="#747474"/><rect x="649.5" y="111.3" width="2.3" height="2.3" fill="#9090e0"/><rect x="743" y="315.5" width="1.9" height="1.9" fill="#747474"/><rect x="738.4" y="317.2" width="1.7" height="1.7" fill="#646464"/><rect x="733.8" y="319.1" width="1.6" height="1.6" fill="#747474"/><rect x="664.2" y="343.6" width="2.3" height="2.3" fill="#9090e0"/><rect x="661.2" y="347.6" width="1.7" height="1.7" fill="#747474"/><rect x="817.3" y="187.8" width="1.8" height="1.8" fill="#e8a050"/><rect x="713.8" y="134.6" width="1.8" height="1.8" fill="#9090e0"/><rect x="772.4" y="400.6" width="1.7" height="1.7" fill="#646464"/><rect x="734.5" y="254.7" width="1.9" height="1.9" fill="#747474"/><rect x="735.4" y="259.8" width="1.7" height="1.7" fill="#747474"/><rect x="755.7" y="272.1" width="2.2" height="2.2" fill="#9090e0"/><rect x="660.3" y="305.4" width="1.5" height="1.5" fill="#646464"/><rect x="664.5" y="308.2" width="1.5" height="1.5" fill="#747474"/><rect x="623.6" y="399.4" width="2" height="2" fill="#747474"/><rect x="628.8" y="400" width="1.5" height="1.5" fill="#747474"/><rect x="663" y="269.2" width="2.3" height="2.3" fill="#9090e0"/><rect x="556.2" y="351.8" width="2" height="2" fill="#7ed87e"/><rect x="738.1" y="246.7" width="1.6" height="1.6" fill="#9090e0"/><rect x="736.3" y="251.3" width="1.7" height="1.7" fill="#747474"/><rect x="734.3" y="255.8" width="2.2" height="2.2" fill="#646464"/><rect x="628.6" y="333.4" width="1.9" height="1.9" fill="#646464"/><rect x="630.9" y="337.8" width="2" height="2" fill="#9090e0"/><rect x="633.2" y="342.1" width="2.1" height="2.1" fill="#747474"/><rect x="688.3" y="399.9" width="2.1" height="2.1" fill="#747474"/><rect x="684.8" y="403.4" width="1.9" height="1.9" fill="#86dede"/><rect x="681.1" y="406.8" width="1.9" height="1.9" fill="#747474"/><rect x="756.1" y="226.2" width="2.1" height="2.1" fill="#747474"/><rect x="761.3" y="226.7" width="1.6" height="1.6" fill="#86dede"/><rect x="618.2" y="168.3" width="1.6" height="1.6" fill="#646464"/><rect x="618.2" y="228.2" width="1.8" height="1.8" fill="#7ed87e"/><rect x="740.3" y="310.5" width="1.8" height="1.8" fill="#646464"/><rect x="666.2" y="135.2" width="1.8" height="1.8" fill="#646464"/><rect x="733.5" y="134.9" width="2.1" height="2.1" fill="#747474"/><rect x="827.1" y="307.1" width="2" height="2" fill="#747474"/><rect x="551.8" y="341.7" width="1.5" height="1.5" fill="#7c7cd8"/><rect x="546.6" y="342.3" width="2.1" height="2.1" fill="#747474"/><rect x="701.4" y="355.9" width="1.7" height="1.7" fill="#646464"/><rect x="704" y="360.2" width="1.7" height="1.7" fill="#d8d860"/><rect x="632" y="220.1" width="1.6" height="1.6" fill="#86dede"/><rect x="679.4" y="300.2" width="2" height="2" fill="#747474"/><rect x="597.6" y="180.7" width="2.1" height="2.1" fill="#9090e0"/><rect x="845.9" y="294.5" width="2.3" height="2.3" fill="#7c7cd8"/><rect x="847.3" y="299.8" width="1.5" height="1.5" fill="#747474"/><rect x="830.2" y="363.3" width="2.1" height="2.1" fill="#747474"/><rect x="755.7" y="291.9" width="2" height="2" fill="#747474"/><rect x="639" y="153.2" width="1.7" height="1.7" fill="#646464"/><rect x="680.5" y="234" width="1.8" height="1.8" fill="#747474"/><rect x="685.2" y="236.2" width="1.5" height="1.5" fill="#747474"/><rect x="795.8" y="243.9" width="2.3" height="2.3" fill="#86dede"/><rect x="686.8" y="248.3" width="2.1" height="2.1" fill="#747474"/><rect x="690.9" y="251.8" width="1.6" height="1.6" fill="#747474"/><rect x="619.6" y="349.6" width="2.2" height="2.2" fill="#86dede"/><rect x="779" y="235.2" width="1.7" height="1.7" fill="#747474"/><rect x="784" y="236.4" width="1.5" height="1.5" fill="#747474"/><rect x="788.7" y="237.4" width="1.8" height="1.8" fill="#747474"/><rect x="595.2" y="212.5" width="1.9" height="1.9" fill="#747474"/><rect x="600.3" y="212.7" width="1.8" height="1.8" fill="#747474"/><rect x="605" y="212.6" width="2.3" height="2.3" fill="#747474"/><rect x="692.9" y="157.3" width="2.3" height="2.3" fill="#747474"/><rect x="694.4" y="162.4" width="1.8" height="1.8" fill="#747474"/><rect x="638.9" y="286" width="1.9" height="1.9" fill="#747474"/><rect x="843.9" y="239.2" width="2" height="2" fill="#9090e0"/><rect x="815.9" y="322.7" width="2.1" height="2.1" fill="#747474"/><rect x="820.9" y="323.2" width="2" height="2" fill="#747474"/><rect x="826" y="323.9" width="1.8" height="1.8" fill="#646464"/><rect x="701.2" y="248.8" width="2" height="2" fill="#747474"/><rect x="697.8" y="252.6" width="1.7" height="1.7" fill="#d8d860"/><rect x="590.1" y="137.9" width="2.3" height="2.3" fill="#747474"/><rect x="592.1" y="142.7" width="2" height="2" fill="#747474"/><rect x="594.2" y="147.6" width="1.6" height="1.6" fill="#9090e0"/><rect x="738.3" y="110.8" width="2.2" height="2.2" fill="#747474"/><rect x="761.8" y="168" width="1.6" height="1.6" fill="#747474"/><rect x="760.3" y="172.7" width="1.9" height="1.9" fill="#7ed87e"/><rect x="568" y="230.6" width="1.6" height="1.6" fill="#9090e0"/><rect x="656.5" y="186.1" width="1.5" height="1.5" fill="#7c7cd8"/><rect x="651.2" y="186.6" width="2.2" height="2.2" fill="#747474"/><rect x="646.6" y="187.7" width="1.6" height="1.6" fill="#9090e0"/><rect x="746.6" y="323.4" width="1.9" height="1.9" fill="#9090e0"/><rect x="648.9" y="387.1" width="2.1" height="2.1" fill="#d8d860"/><rect x="578.7" y="288.4" width="2" height="2" fill="#747474"/><rect x="574.7" y="291.4" width="1.9" height="1.9" fill="#747474"/><rect x="704.3" y="358.1" width="1.9" height="1.9" fill="#747474"/><rect x="706.8" y="362.6" width="1.7" height="1.7" fill="#747474"/><rect x="612.8" y="196.7" width="1.7" height="1.7" fill="#747474"/><rect x="576.3" y="298.9" width="1.8" height="1.8" fill="#747474"/><rect x="732.7" y="114.7" width="1.8" height="1.8" fill="#9090e0"/><rect x="845.1" y="289.9" width="2.1" height="2.1" fill="#9090e0"/><rect x="840.3" y="290.5" width="1.8" height="1.8" fill="#747474"/><rect x="545.1" y="168.7" width="1.6" height="1.6" fill="#646464"/><rect x="548.9" y="171.2" width="2.2" height="2.2" fill="#747474"/><rect x="553.2" y="174.2" width="1.9" height="1.9" fill="#747474"/><rect x="606.1" y="321.4" width="1.5" height="1.5" fill="#9090e0"/><rect x="601" y="322.2" width="1.9" height="1.9" fill="#646464"/><rect x="596" y="323.1" width="2.2" height="2.2" fill="#747474"/><rect x="590.4" y="312.5" width="1.6" height="1.6" fill="#747474"/><rect x="585.8" y="314.3" width="1.5" height="1.5" fill="#9090e0"/><rect x="704.7" y="329.2" width="1.8" height="1.8" fill="#747474"/><rect x="704" y="334.1" width="1.9" height="1.9" fill="#747474"/><rect x="703.2" y="338.9" width="2.2" height="2.2" fill="#747474"/><rect x="676" y="240.5" width="1.5" height="1.5" fill="#646464"/><rect x="632.6" y="113.3" width="2.1" height="2.1" fill="#646464"/><rect x="733" y="194.5" width="1.6" height="1.6" fill="#7c7cd8"/><rect x="631.1" y="360.7" width="1.7" height="1.7" fill="#747474"/><rect x="636.1" y="360.8" width="1.7" height="1.7" fill="#747474"/><rect x="779.9" y="146.9" width="1.7" height="1.7" fill="#9090e0"/><rect x="779.7" y="151.9" width="1.8" height="1.8" fill="#747474"/><rect x="575.3" y="301" width="1.9" height="1.9" fill="#747474"/><rect x="610.4" y="336.2" width="2.2" height="2.2" fill="#747474"/><rect x="610.8" y="341.4" width="1.9" height="1.9" fill="#747474"/><rect x="657" y="109.9" width="1.8" height="1.8" fill="#646464"/><rect x="602.7" y="209.5" width="2.1" height="2.1" fill="#747474"/><rect x="606" y="213.4" width="2" height="2" fill="#9090e0"/><rect x="530.5" y="298.4" width="1.8" height="1.8" fill="#747474"/><rect x="670.6" y="219.6" width="1.9" height="1.9" fill="#9090e0"/><rect x="846.6" y="263.3" width="2" height="2" fill="#747474"/><rect x="651.7" y="163.4" width="2.2" height="2.2" fill="#747474"/><rect x="711" y="304.4" width="1.8" height="1.8" fill="#86dede"/><rect x="646.7" y="173.6" width="2.2" height="2.2" fill="#747474"/><rect x="642.2" y="175.4" width="1.6" height="1.6" fill="#7ed87e"/><rect x="637.3" y="176.7" width="1.9" height="1.9" fill="#747474"/><rect x="704.5" y="83.5" width="1.6" height="1.6" fill="#646464"/><rect x="700.5" y="86.4" width="1.8" height="1.8" fill="#7c7cd8"/><rect x="696.5" y="89.4" width="1.6" height="1.6" fill="#9090e0"/><rect x="749.9" y="81.9" width="1.6" height="1.6" fill="#747474"/><rect x="658.9" y="389.3" width="2.1" height="2.1" fill="#747474"/><rect x="562.8" y="312.3" width="2.2" height="2.2" fill="#747474"/><rect x="868.8" y="245.8" width="1.5" height="1.5" fill="#747474"/><rect x="728.7" y="84.8" width="2.2" height="2.2" fill="#747474"/><rect x="588.6" y="174.2" width="2.1" height="2.1" fill="#747474"/><rect x="711.8" y="81" width="2" height="2" fill="#747474"/><rect x="798.4" y="228.7" width="1.6" height="1.6" fill="#747474"/><rect x="793.4" y="229.4" width="1.9" height="1.9" fill="#747474"/><rect x="788.5" y="230.3" width="1.8" height="1.8" fill="#747474"/><rect x="821.5" y="353.4" width="1.6" height="1.6" fill="#646464"/><rect x="817.1" y="355.9" width="2.1" height="2.1" fill="#646464"/><rect x="813.1" y="358.9" width="1.9" height="1.9" fill="#646464"/><rect x="820.8" y="276.8" width="1.8" height="1.8" fill="#9090e0"/><rect x="825.7" y="278.4" width="1.6" height="1.6" fill="#9090e0"/><rect x="830.2" y="279.6" width="2.1" height="2.1" fill="#9090e0"/><rect x="603.6" y="361.9" width="2.2" height="2.2" fill="#9090e0"/><rect x="627.6" y="258.4" width="1.9" height="1.9" fill="#747474"/><rect x="636.5" y="236.3" width="1.5" height="1.5" fill="#646464"/><rect x="689.2" y="423.6" width="1.6" height="1.6" fill="#747474"/><rect x="692.1" y="427.2" width="2.2" height="2.2" fill="#747474"/><rect x="527.5" y="247.8" width="2.1" height="2.1" fill="#747474"/><rect x="562.2" y="186.6" width="1.7" height="1.7" fill="#747474"/><rect x="805.7" y="271.6" width="1.6" height="1.6" fill="#646464"/><rect x="653.2" y="178.7" width="1.5" height="1.5" fill="#9090e0"/><rect x="656.6" y="182" width="2" height="2" fill="#747474"/><rect x="731.9" y="246.1" width="1.7" height="1.7" fill="#747474"/><rect x="729.9" y="250.5" width="2.1" height="2.1" fill="#747474"/><rect x="728.3" y="255.4" width="1.6" height="1.6" fill="#646464"/><rect x="625.2" y="406.8" width="1.7" height="1.7" fill="#747474"/><rect x="681" y="103.8" width="1.7" height="1.7" fill="#9090e0"/><rect x="827.3" y="182.6" width="2.1" height="2.1" fill="#d8d860"/><rect x="571.1" y="265.8" width="2" height="2" fill="#9090e0"/><rect x="740.1" y="383.6" width="2.1" height="2.1" fill="#747474"/><rect x="735.9" y="386.1" width="1.6" height="1.6" fill="#747474"/><rect x="838.6" y="218.5" width="2.1" height="2.1" fill="#747474"/><rect x="682.5" y="288.6" width="1.8" height="1.8" fill="#646464"/><rect x="682.9" y="293.4" width="2.1" height="2.1" fill="#9090e0"/><rect x="683.6" y="298.6" width="1.7" height="1.7" fill="#7c7cd8"/><rect x="821.8" y="218.1" width="2.1" height="2.1" fill="#747474"/><rect x="745.7" y="103.7" width="1.9" height="1.9" fill="#747474"/><rect x="706.5" y="374.7" width="1.5" height="1.5" fill="#7c7cd8"/><rect x="701.6" y="376" width="1.8" height="1.8" fill="#9090e0"/><rect x="696.6" y="377.3" width="2.1" height="2.1" fill="#646464"/><rect x="635.4" y="341.4" width="2.2" height="2.2" fill="#9090e0"/><rect x="622.5" y="366.1" width="1.9" height="1.9" fill="#747474"/><rect x="754.9" y="256" width="1.7" height="1.7" fill="#747474"/><rect x="750.7" y="258.7" width="1.9" height="1.9" fill="#747474"/><rect x="793" y="305.8" width="1.6" height="1.6" fill="#747474"/><rect x="676.3" y="397.9" width="1.7" height="1.7" fill="#646464"/><rect x="677.1" y="402.7" width="2" height="2" fill="#747474"/><rect x="677.9" y="407.5" width="2.2" height="2.2" fill="#747474"/><rect x="616.6" y="315.4" width="2.2" height="2.2" fill="#747474"/><rect x="566" y="142.1" width="2.2" height="2.2" fill="#747474"/><rect x="567.7" y="146.9" width="2" height="2" fill="#9090e0"/><rect x="805" y="112.5" width="1.6" height="1.6" fill="#747474"/><rect x="808.9" y="209.1" width="2" height="2" fill="#9090e0"/><rect x="847.8" y="234.8" width="2.2" height="2.2" fill="#747474"/><rect x="844.3" y="238.4" width="2" height="2" fill="#7c7cd8"/><rect x="840.7" y="242" width="2" height="2" fill="#747474"/><rect x="531.9" y="309.8" width="2" height="2" fill="#9090e0"/><rect x="534" y="314.3" width="2.1" height="2.1" fill="#7ed87e"/><rect x="536.2" y="318.9" width="2" height="2" fill="#747474"/><rect x="547.8" y="256.1" width="1.8" height="1.8" fill="#747474"/><rect x="552.7" y="256.3" width="1.9" height="1.9" fill="#747474"/><rect x="557.7" y="256.6" width="2" height="2" fill="#747474"/><rect x="527.8" y="294.1" width="2.2" height="2.2" fill="#86dede"/><rect x="780.1" y="357.7" width="1.6" height="1.6" fill="#d8d860"/><rect x="546.4" y="155.6" width="1.9" height="1.9" fill="#747474"/><rect x="541" y="334.1" width="1.9" height="1.9" fill="#646464"/><rect x="801.5" y="232.8" width="2" height="2" fill="#747474"/><rect x="768.6" y="108.6" width="2.1" height="2.1" fill="#747474"/><rect x="787.6" y="287.4" width="1.5" height="1.5" fill="#747474"/><rect x="787.2" y="292.3" width="1.8" height="1.8" fill="#747474"/><rect x="786.6" y="297" width="2.3" height="2.3" fill="#86dede"/><rect x="733.8" y="341.2" width="2.2" height="2.2" fill="#646464"/><rect x="574.9" y="333.9" width="2.3" height="2.3" fill="#747474"/><rect x="687.4" y="330" width="1.8" height="1.8" fill="#747474"/><rect x="682.4" y="331.2" width="2.2" height="2.2" fill="#747474"/><rect x="786.4" y="275.5" width="2" height="2" fill="#646464"/><rect x="786" y="280.6" width="1.7" height="1.7" fill="#9090e0"/><rect x="785.2" y="285.3" width="2.2" height="2.2" fill="#747474"/><rect x="601.9" y="232.5" width="1.5" height="1.5" fill="#747474"/><rect x="550" y="220" width="1.7" height="1.7" fill="#7ed87e"/><rect x="553" y="224.2" width="1.6" height="1.6" fill="#747474"/><rect x="548.1" y="203.3" width="2.1" height="2.1" fill="#9090e0"/><rect x="545.7" y="207.7" width="1.6" height="1.6" fill="#7ed87e"/><rect x="763.5" y="385.6" width="1.8" height="1.8" fill="#9090e0"/><rect x="838.9" y="193.7" width="1.8" height="1.8" fill="#747474"/><rect x="841.1" y="197.9" width="2.1" height="2.1" fill="#7c7cd8"/><rect x="790.8" y="369.8" width="1.8" height="1.8" fill="#747474"/><rect x="800.7" y="296" width="2" height="2" fill="#9090e0"/><rect x="800.7" y="301" width="2" height="2" fill="#747474"/><rect x="671.4" y="411.8" width="2" height="2" fill="#747474"/><rect x="699" y="123.6" width="2.2" height="2.2" fill="#9090e0"/><rect x="596.7" y="115.4" width="1.8" height="1.8" fill="#7c7cd8"/><rect x="601.1" y="117.3" width="2.1" height="2.1" fill="#7c7cd8"/><rect x="605.8" y="119.3" width="2" height="2" fill="#9090e0"/><rect x="557" y="241.9" width="2" height="2" fill="#747474"/><rect x="853.7" y="224.8" width="1.6" height="1.6" fill="#747474"/><rect x="855.8" y="229.3" width="1.7" height="1.7" fill="#86dede"/><rect x="857.7" y="233.6" width="2.1" height="2.1" fill="#747474"/><rect x="576.2" y="291.2" width="2.1" height="2.1" fill="#646464"/><rect x="571.2" y="291.5" width="2.2" height="2.2" fill="#747474"/><rect x="760.7" y="303.9" width="1.9" height="1.9" fill="#86dede"/><rect x="712.2" y="381.7" width="2.1" height="2.1" fill="#9090e0"/><rect x="665.7" y="242.8" width="1.7" height="1.7" fill="#9090e0"/><rect x="573.2" y="373.5" width="1.8" height="1.8" fill="#646464"/><rect x="559.3" y="239.3" width="2.3" height="2.3" fill="#9090e0"/><rect x="611.1" y="405.3" width="1.8" height="1.8" fill="#646464"/><rect x="615.8" y="406.3" width="2.2" height="2.2" fill="#86dede"/><rect x="638.4" y="197.5" width="1.7" height="1.7" fill="#747474"/><rect x="748.3" y="393.4" width="2.1" height="2.1" fill="#9090e0"/><rect x="748" y="398.4" width="2.1" height="2.1" fill="#9090e0"/><rect x="742.5" y="397.4" width="2.3" height="2.3" fill="#9090e0"/><rect x="828.7" y="176.8" width="1.8" height="1.8" fill="#747474"/><rect x="769" y="127.2" width="1.8" height="1.8" fill="#747474"/><rect x="765.3" y="130.7" width="2" height="2" fill="#747474"/><rect x="794.3" y="244.6" width="1.8" height="1.8" fill="#9090e0"/><rect x="844" y="277.6" width="1.6" height="1.6" fill="#747474"/><rect x="716.9" y="129.3" width="1.9" height="1.9" fill="#9090e0"/><rect x="723.8" y="192.4" width="1.8" height="1.8" fill="#747474"/><rect x="728.4" y="194" width="2" height="2" fill="#747474"/><rect x="768.1" y="219.8" width="2.1" height="2.1" fill="#747474"/><rect x="771.3" y="223.6" width="2.1" height="2.1" fill="#747474"/><rect x="731.3" y="195.1" width="1.9" height="1.9" fill="#9090e0"/><rect x="854.4" y="277.8" width="1.5" height="1.5" fill="#747474"/><rect x="795.7" y="166.2" width="1.9" height="1.9" fill="#747474"/><rect x="543.8" y="286.9" width="2.2" height="2.2" fill="#747474"/><rect x="653.3" y="288.5" width="1.9" height="1.9" fill="#7ed87e"/><rect x="542" y="175" width="2" height="2" fill="#9090e0"/><rect x="539.1" y="179.1" width="2.2" height="2.2" fill="#9090e0"/><rect x="766" y="375.6" width="1.9" height="1.9" fill="#9090e0"/><rect x="797.6" y="155.4" width="1.6" height="1.6" fill="#646464"/><rect x="801.8" y="156.9" width="2.3" height="2.3" fill="#747474"/><rect x="710.6" y="360.4" width="2.1" height="2.1" fill="#646464"/><rect x="749.1" y="263" width="1.5" height="1.5" fill="#747474"/><rect x="706.1" y="421.5" width="1.9" height="1.9" fill="#747474"/><rect x="710.1" y="424.8" width="1.8" height="1.8" fill="#646464"/><rect x="713.9" y="427.9" width="1.9" height="1.9" fill="#747474"/><rect x="523.2" y="273.1" width="1.6" height="1.6" fill="#747474"/><rect x="519.3" y="276.3" width="2" height="2" fill="#646464"/><rect x="639.5" y="364.1" width="1.5" height="1.5" fill="#7c7cd8"/><rect x="634.3" y="364.5" width="1.9" height="1.9" fill="#9090e0"/><rect x="750.6" y="135.9" width="1.9" height="1.9" fill="#9090e0"/><rect x="748.7" y="140.5" width="2" height="2" fill="#9090e0"/><rect x="605.7" y="170.3" width="1.5" height="1.5" fill="#9090e0"/><rect x="602.8" y="174.3" width="2.1" height="2.1" fill="#9090e0"/><rect x="635.5" y="265.9" width="2.3" height="2.3" fill="#9090e0"/><rect x="656" y="215.7" width="2.1" height="2.1" fill="#747474"/><rect x="655.6" y="220.6" width="2.2" height="2.2" fill="#9090e0"/><rect x="655.5" y="225.8" width="1.8" height="1.8" fill="#747474"/><rect x="645.3" y="397.1" width="1.8" height="1.8" fill="#646464"/><rect x="649.9" y="399.5" width="1.6" height="1.6" fill="#747474"/><rect x="837.7" y="289.7" width="1.9" height="1.9" fill="#747474"/><rect x="579.6" y="326.6" width="1.6" height="1.6" fill="#9090e0"/><rect x="577.3" y="331.1" width="1.5" height="1.5" fill="#747474"/><rect x="574.9" y="335.3" width="2" height="2" fill="#9090e0"/><rect x="808.2" y="377.4" width="2.3" height="2.3" fill="#747474"/><rect x="556.1" y="303.7" width="1.5" height="1.5" fill="#9090e0"/><rect x="642.8" y="298.2" width="1.9" height="1.9" fill="#9090e0"/><rect x="647.1" y="300.6" width="2.1" height="2.1" fill="#646464"/><rect x="651.6" y="303.2" width="1.8" height="1.8" fill="#9090e0"/><rect x="702.5" y="230.4" width="2.2" height="2.2" fill="#747474"/><rect x="785.6" y="201" width="2.1" height="2.1" fill="#7c7cd8"/><rect x="639.3" y="238.4" width="1.8" height="1.8" fill="#747474"/><rect x="753" y="274.2" width="2" height="2" fill="#646464"/><rect x="528" y="208.4" width="2.3" height="2.3" fill="#9090e0"/><rect x="529.7" y="213.5" width="1.7" height="1.7" fill="#747474"/><path d="M668.5 350 L681.1 347.1 L684 330.5 L685 322.8 L688.9 317 L684.6 311.1 L682.1 282.9 L694.7 269.3 L698.2 265.4 L696.7 261.5 L708.3 239.2 L719 218.7 L722 216.8 L723.9 211.9 L735.6 205.1 L742.4 192.5 L750.1 183.7 L767.2 171.1 L763.7 163.3 L769 153.6" fill="none" stroke="#222222" stroke-width="2.4" stroke-linejoin="round" stroke-linecap="round"/><rect x="768" y="151" width="3" height="3" fill="#e8804a"/><rect x="666" y="351" width="3" height="3" fill="#e8804a"/>
<rect x="914" y="437.4" width="371.2" height="2" fill="#d3d6dc"/><rect x="914" y="66.6" width="371.2" height="371" fill="url(#bg)"/><circle cx="1100.2" cy="250.8" r="184" fill="#d8d8d8" stroke="#161616" stroke-width="1.9"/><circle cx="1100.2" cy="250.8" r="182" fill="none" stroke="#e8e8e8" stroke-width="1.2"/><rect x="1059.9" y="415.1" width="1.6" height="1.6" fill="#747474"/><rect x="1231" y="204.8" width="2.1" height="2.1" fill="#9090e0"/><rect x="1100.9" y="160.8" width="2.2" height="2.2" fill="#747474"/><rect x="1010.6" y="141.1" width="2" height="2" fill="#646464"/><rect x="1008.2" y="145.5" width="2.1" height="2.1" fill="#646464"/><rect x="1006.1" y="150.2" width="1.6" height="1.6" fill="#747474"/><rect x="1118.8" y="258.5" width="2.1" height="2.1" fill="#646464"/><rect x="1023.5" y="147.7" width="1.6" height="1.6" fill="#747474"/><rect x="1018.8" y="149.5" width="1.8" height="1.8" fill="#747474"/><rect x="1055.2" y="139.4" width="1.9" height="1.9" fill="#7c7cd8"/><rect x="1063.7" y="322.6" width="1.7" height="1.7" fill="#747474"/><rect x="1038.3" y="333.3" width="1.6" height="1.6" fill="#747474"/><rect x="1128.7" y="108" width="1.6" height="1.6" fill="#747474"/><rect x="1244.1" y="351.1" width="2" height="2" fill="#747474"/><rect x="1189" y="286.8" width="1.8" height="1.8" fill="#7ed87e"/><rect x="1027.1" y="230.3" width="1.8" height="1.8" fill="#747474"/><rect x="1029.1" y="235" width="1.6" height="1.6" fill="#646464"/><rect x="1030.9" y="239.3" width="2.1" height="2.1" fill="#747474"/><rect x="1074.9" y="357" width="2.2" height="2.2" fill="#9090e0"/><rect x="1112.5" y="85.9" width="1.5" height="1.5" fill="#747474"/><rect x="1116" y="89.2" width="1.8" height="1.8" fill="#747474"/><rect x="1034.8" y="319.1" width="1.9" height="1.9" fill="#747474"/><rect x="1035.3" y="324.3" width="1.6" height="1.6" fill="#9090e0"/><rect x="1190.6" y="333.3" width="1.5" height="1.5" fill="#747474"/><rect x="1132.7" y="335.5" width="1.9" height="1.9" fill="#7ed87e"/><rect x="1174.8" y="286.2" width="2.3" height="2.3" fill="#646464"/><rect x="1171.6" y="290" width="1.8" height="1.8" fill="#7ed87e"/><rect x="1208.1" y="292.8" width="2.2" height="2.2" fill="#747474"/><rect x="1213.3" y="294" width="1.6" height="1.6" fill="#747474"/><rect x="1082.7" y="420.3" width="2.1" height="2.1" fill="#747474"/><rect x="1083.6" y="425.6" width="1.6" height="1.6" fill="#646464"/><rect x="1069" y="405.3" width="1.9" height="1.9" fill="#e8a050"/><rect x="1074" y="406.6" width="1.5" height="1.5" fill="#747474"/><rect x="1078.7" y="407.4" width="1.9" height="1.9" fill="#9090e0"/><rect x="1220" y="268.5" width="2.1" height="2.1" fill="#9090e0"/><rect x="1216.8" y="272.4" width="1.6" height="1.6" fill="#9090e0"/><rect x="1026" y="333.2" width="2.2" height="2.2" fill="#9090e0"/><rect x="985.1" y="375" width="1.9" height="1.9" fill="#747474"/><rect x="1079.8" y="132.1" width="1.6" height="1.6" fill="#747474"/><rect x="1154.6" y="393.8" width="2" height="2" fill="#747474"/><rect x="1272.2" y="263.5" width="2.2" height="2.2" fill="#747474"/><rect x="1276" y="266.9" width="2" height="2" fill="#9090e0"/><rect x="1138.9" y="414.6" width="2.3" height="2.3" fill="#747474"/><rect x="1143.3" y="417.8" width="1.7" height="1.7" fill="#747474"/><rect x="1197.3" y="225.4" width="2.1" height="2.1" fill="#747474"/><rect x="957" y="184.4" width="2.1" height="2.1" fill="#747474"/><rect x="1003" y="173.6" width="1.7" height="1.7" fill="#747474"/><rect x="1002" y="178.3" width="2.3" height="2.3" fill="#747474"/><rect x="1138.2" y="302.9" width="2.1" height="2.1" fill="#747474"/><rect x="1138" y="308.1" width="1.8" height="1.8" fill="#747474"/><rect x="1240.5" y="327.7" width="2" height="2" fill="#7c7cd8"/><rect x="1210.8" y="115.8" width="1.5" height="1.5" fill="#747474"/><rect x="1214.1" y="119.5" width="1.6" height="1.6" fill="#7c7cd8"/><rect x="1217.3" y="123.2" width="1.7" height="1.7" fill="#747474"/><rect x="1056.8" y="420" width="1.8" height="1.8" fill="#747474"/><rect x="1052.1" y="421.8" width="2" height="2" fill="#747474"/><rect x="1061.8" y="118.9" width="2" height="2" fill="#9090e0"/><rect x="1062.5" y="123.7" width="2.2" height="2.2" fill="#9090e0"/><rect x="1175.5" y="231.6" width="1.6" height="1.6" fill="#646464"/><rect x="1067.3" y="165.7" width="1.7" height="1.7" fill="#86dede"/><rect x="1164.5" y="115.5" width="2" height="2" fill="#747474"/><rect x="1169.7" y="116.7" width="1.5" height="1.5" fill="#9090e0"/><rect x="1174.3" y="117.3" width="2" height="2" fill="#747474"/><rect x="1062.9" y="111.2" width="1.7" height="1.7" fill="#9090e0"/><rect x="941.2" y="323.7" width="1.6" height="1.6" fill="#747474"/><rect x="945.1" y="326.6" width="1.8" height="1.8" fill="#9090e0"/><rect x="1070.8" y="143.8" width="1.7" height="1.7" fill="#747474"/><rect x="1119.3" y="339.5" width="2" height="2" fill="#7c7cd8"/><rect x="1025.3" y="152.7" width="1.8" height="1.8" fill="#646464"/><rect x="1065.9" y="136.7" width="2" height="2" fill="#9090e0"/><rect x="1070.3" y="139.4" width="1.8" height="1.8" fill="#9090e0"/><rect x="1204" y="344.7" width="2" height="2" fill="#646464"/><rect x="1206.9" y="348.6" width="2.3" height="2.3" fill="#9090e0"/><rect x="1151.1" y="397.3" width="1.6" height="1.6" fill="#747474"/><rect x="959.8" y="290.7" width="1.5" height="1.5" fill="#747474"/><rect x="950.9" y="216.7" width="2.2" height="2.2" fill="#9090e0"/><rect x="1175.5" y="295.4" width="2.1" height="2.1" fill="#747474"/><rect x="1124.1" y="248" width="1.6" height="1.6" fill="#86dede"/><rect x="1033.3" y="360.5" width="2.2" height="2.2" fill="#9090e0"/><rect x="1035.9" y="364.7" width="2.2" height="2.2" fill="#747474"/><rect x="1091.3" y="341.5" width="1.7" height="1.7" fill="#9090e0"/><rect x="1138.7" y="102.8" width="2" height="2" fill="#747474"/><rect x="1141" y="107.1" width="2.1" height="2.1" fill="#e8a050"/><rect x="1100.7" y="86.7" width="1.7" height="1.7" fill="#9090e0"/><rect x="1145.7" y="97" width="2.1" height="2.1" fill="#747474"/><rect x="1150.7" y="98.6" width="1.9" height="1.9" fill="#747474"/><rect x="1155" y="120.8" width="1.6" height="1.6" fill="#646464"/><rect x="1150.5" y="123.2" width="2" height="2" fill="#747474"/><rect x="1209.8" y="338.9" width="1.9" height="1.9" fill="#747474"/><rect x="1078.4" y="287" width="1.7" height="1.7" fill="#747474"/><rect x="1004.7" y="135.8" width="1.7" height="1.7" fill="#747474"/><rect x="1051.8" y="172.3" width="1.8" height="1.8" fill="#747474"/><rect x="1057.4" y="108.8" width="1.9" height="1.9" fill="#747474"/><rect x="1044.8" y="397" width="1.9" height="1.9" fill="#747474"/><rect x="1199.4" y="389.9" width="1.8" height="1.8" fill="#747474"/><rect x="1194.6" y="391.7" width="2.1" height="2.1" fill="#9090e0"/><rect x="1200.4" y="142.3" width="1.6" height="1.6" fill="#9090e0"/><rect x="1199.6" y="297.1" width="1.9" height="1.9" fill="#9090e0"/><rect x="942.9" y="301.1" width="1.8" height="1.8" fill="#9090e0"/><rect x="937.8" y="301.9" width="2.2" height="2.2" fill="#747474"/><rect x="1227.4" y="193.1" width="2.2" height="2.2" fill="#747474"/><rect x="1232.2" y="194.8" width="2.2" height="2.2" fill="#747474"/><rect x="1224.1" y="203.6" width="1.7" height="1.7" fill="#646464"/><rect x="1228.8" y="204.4" width="2.1" height="2.1" fill="#747474"/><rect x="1233.9" y="205.5" width="1.8" height="1.8" fill="#9090e0"/><rect x="1195.4" y="307.3" width="1.7" height="1.7" fill="#747474"/><rect x="1200.2" y="308.8" width="1.6" height="1.6" fill="#9090e0"/><rect x="1205" y="310.3" width="1.6" height="1.6" fill="#747474"/><rect x="1166.2" y="361.4" width="1.8" height="1.8" fill="#747474"/><rect x="1151.7" y="109.3" width="1.9" height="1.9" fill="#747474"/><rect x="1244.4" y="344.2" width="1.9" height="1.9" fill="#7c7cd8"/><rect x="1239.5" y="345.1" width="2" height="2" fill="#86dede"/><rect x="1234.6" y="346.1" width="1.9" height="1.9" fill="#747474"/><rect x="1066.9" y="100.6" width="1.9" height="1.9" fill="#7c7cd8"/><rect x="1185.2" y="155.4" width="1.9" height="1.9" fill="#747474"/><rect x="1167.7" y="245.7" width="2.1" height="2.1" fill="#747474"/><rect x="1184.7" y="129.8" width="2.2" height="2.2" fill="#9090e0"/><rect x="1083.2" y="241.8" width="1.5" height="1.5" fill="#747474"/><rect x="1079.5" y="245.1" width="1.7" height="1.7" fill="#d8d860"/><rect x="1030.2" y="402.3" width="1.8" height="1.8" fill="#747474"/><rect x="1056.5" y="290.8" width="2" height="2" fill="#747474"/><rect x="1060.2" y="294" width="2.1" height="2.1" fill="#7c7cd8"/><rect x="1063.9" y="297.2" width="2.2" height="2.2" fill="#747474"/><rect x="1158.6" y="82.7" width="1.7" height="1.7" fill="#9090e0"/><rect x="1037.9" y="158.4" width="2.1" height="2.1" fill="#747474"/><rect x="1079.2" y="213" width="2.2" height="2.2" fill="#9090e0"/><rect x="1209.9" y="382.1" width="2.2" height="2.2" fill="#646464"/><rect x="1206.5" y="385.7" width="2.2" height="2.2" fill="#9090e0"/><rect x="1203" y="389.3" width="2.3" height="2.3" fill="#86dede"/><rect x="980.3" y="272.4" width="1.8" height="1.8" fill="#9090e0"/><rect x="1155.9" y="274" width="1.6" height="1.6" fill="#747474"/><rect x="1239.1" y="313.2" width="1.7" height="1.7" fill="#646464"/><rect x="1243.2" y="316.1" width="1.8" height="1.8" fill="#747474"/><rect x="991" y="121.3" width="2.1" height="2.1" fill="#7c7cd8"/><rect x="1036.2" y="404" width="2.3" height="2.3" fill="#646464"/><rect x="1136.2" y="221.4" width="2" height="2" fill="#7c7cd8"/><rect x="1127.4" y="353.6" width="1.6" height="1.6" fill="#9090e0"/><rect x="1129.6" y="358.2" width="1.5" height="1.5" fill="#7c7cd8"/><rect x="1131.5" y="362.6" width="1.8" height="1.8" fill="#646464"/><rect x="1075.5" y="135.5" width="1.9" height="1.9" fill="#747474"/><rect x="1080.5" y="137.1" width="1.6" height="1.6" fill="#9090e0"/><rect x="1136.8" y="116.4" width="2.3" height="2.3" fill="#7c7cd8"/><rect x="998.8" y="294.6" width="1.7" height="1.7" fill="#747474"/><rect x="995.6" y="298.4" width="2.1" height="2.1" fill="#747474"/><rect x="1150.2" y="371.4" width="2" height="2" fill="#7c7cd8"/><rect x="1150.1" y="376.3" width="2.2" height="2.2" fill="#747474"/><rect x="1150.4" y="381.6" width="1.6" height="1.6" fill="#7c7cd8"/><rect x="1242.1" y="265.7" width="1.8" height="1.8" fill="#7c7cd8"/><rect x="1171.3" y="212.4" width="2.1" height="2.1" fill="#9090e0"/><rect x="1176.5" y="213" width="1.7" height="1.7" fill="#9090e0"/><rect x="1031" y="266.1" width="2.1" height="2.1" fill="#646464"/><rect x="976.6" y="313.7" width="1.7" height="1.7" fill="#747474"/><rect x="1070.7" y="220" width="1.6" height="1.6" fill="#7c7cd8"/><rect x="1126.1" y="121.9" width="1.6" height="1.6" fill="#747474"/><rect x="1221.6" y="123.2" width="2.1" height="2.1" fill="#9090e0"/><rect x="1076.3" y="159.4" width="2.3" height="2.3" fill="#747474"/><rect x="1072.2" y="162.2" width="1.6" height="1.6" fill="#747474"/><rect x="1243.5" y="317.4" width="1.6" height="1.6" fill="#747474"/><rect x="1126.9" y="378.4" width="1.7" height="1.7" fill="#747474"/><rect x="1128.2" y="383.1" width="1.8" height="1.8" fill="#747474"/><rect x="1129.7" y="388" width="1.7" height="1.7" fill="#646464"/><rect x="1143.2" y="320.9" width="1.6" height="1.6" fill="#646464"/><rect x="1066.1" y="360.1" width="2.3" height="2.3" fill="#747474"/><rect x="1062.1" y="362.8" width="1.7" height="1.7" fill="#747474"/><rect x="1042.5" y="212.9" width="1.8" height="1.8" fill="#747474"/><rect x="1150.4" y="273.7" width="2.1" height="2.1" fill="#747474"/><rect x="1045.3" y="293.7" width="1.5" height="1.5" fill="#646464"/><rect x="1040.6" y="295.6" width="1.9" height="1.9" fill="#9090e0"/><rect x="949.2" y="241.6" width="1.6" height="1.6" fill="#646464"/><rect x="946.3" y="245.6" width="2.1" height="2.1" fill="#9090e0"/><rect x="1246.8" y="253.4" width="2.1" height="2.1" fill="#9090e0"/><rect x="1244.9" y="258" width="2" height="2" fill="#646464"/><rect x="1242.9" y="262.5" width="2.3" height="2.3" fill="#747474"/><rect x="991.4" y="215.1" width="2.2" height="2.2" fill="#747474"/><rect x="1237.6" y="228.4" width="1.8" height="1.8" fill="#747474"/><rect x="1233.5" y="231.3" width="1.8" height="1.8" fill="#7c7cd8"/><rect x="930.9" y="215.7" width="1.7" height="1.7" fill="#747474"/><rect x="928.7" y="220.1" width="2" height="2" fill="#646464"/><rect x="1113.5" y="231.6" width="2.2" height="2.2" fill="#747474"/><rect x="1008.3" y="227.1" width="2.1" height="2.1" fill="#747474"/><rect x="1011" y="231.6" width="1.7" height="1.7" fill="#747474"/><rect x="1248.2" y="308.3" width="1.8" height="1.8" fill="#747474"/><rect x="1225.8" y="371.7" width="1.9" height="1.9" fill="#7ed87e"/><rect x="1146.5" y="224.9" width="1.5" height="1.5" fill="#9090e0"/><rect x="1141.4" y="225.8" width="2.1" height="2.1" fill="#747474"/><rect x="974.2" y="316.1" width="2.3" height="2.3" fill="#646464"/><rect x="1140.1" y="259.8" width="2.1" height="2.1" fill="#747474"/><rect x="1158.7" y="355.6" width="2" height="2" fill="#646464"/><rect x="1204.4" y="229.5" width="1.8" height="1.8" fill="#747474"/><rect x="1199.4" y="229.8" width="1.9" height="1.9" fill="#747474"/><rect x="1244" y="272.4" width="1.6" height="1.6" fill="#747474"/><rect x="1008.3" y="373" width="2.2" height="2.2" fill="#646464"/><rect x="1013.4" y="374" width="1.9" height="1.9" fill="#9090e0"/><rect x="1115" y="236" width="1.8" height="1.8" fill="#646464"/><rect x="961.8" y="355.2" width="1.9" height="1.9" fill="#747474"/><rect x="957.4" y="357.5" width="1.6" height="1.6" fill="#9090e0"/><rect x="1022.9" y="149.9" width="1.5" height="1.5" fill="#747474"/><rect x="1017.9" y="150.9" width="1.8" height="1.8" fill="#9090e0"/><rect x="1012.9" y="152" width="2" height="2" fill="#9090e0"/><rect x="1083.8" y="136.9" width="2" height="2" fill="#7ed87e"/><rect x="1078.9" y="137.6" width="1.8" height="1.8" fill="#747474"/><rect x="1078.9" y="417.9" width="2.3" height="2.3" fill="#9090e0"/><rect x="1075.2" y="421.3" width="1.8" height="1.8" fill="#9090e0"/><rect x="1103.6" y="158.6" width="1.9" height="1.9" fill="#646464"/><rect x="1256.9" y="200.7" width="2.1" height="2.1" fill="#7ed87e"/><rect x="1251.9" y="200.9" width="2.1" height="2.1" fill="#747474"/><rect x="947.3" y="174.5" width="1.5" height="1.5" fill="#9090e0"/><rect x="945.9" y="179.3" width="1.6" height="1.6" fill="#646464"/><rect x="980.1" y="366.7" width="2.1" height="2.1" fill="#747474"/><rect x="978.4" y="371.4" width="2.1" height="2.1" fill="#747474"/><rect x="1066.3" y="205.2" width="1.6" height="1.6" fill="#747474"/><rect x="1066.1" y="209.9" width="2.1" height="2.1" fill="#747474"/><rect x="1066.4" y="215" width="1.9" height="1.9" fill="#747474"/><rect x="969.7" y="249.1" width="2.1" height="2.1" fill="#9090e0"/><rect x="965.9" y="252.4" width="2.2" height="2.2" fill="#747474"/><rect x="962.2" y="255.6" width="2.3" height="2.3" fill="#747474"/><rect x="1038.8" y="260.4" width="1.7" height="1.7" fill="#9090e0"/><rect x="966.2" y="150.6" width="2.2" height="2.2" fill="#747474"/><rect x="1156.4" y="179.3" width="1.6" height="1.6" fill="#747474"/><rect x="1156" y="183.9" width="2.2" height="2.2" fill="#9090e0"/><rect x="1218" y="276" width="1.7" height="1.7" fill="#747474"/><rect x="1218.4" y="280.9" width="2" height="2" fill="#9090e0"/><rect x="1218.9" y="285.8" width="2" height="2" fill="#86dede"/><rect x="1106.4" y="107" width="1.6" height="1.6" fill="#747474"/><rect x="1210.4" y="197.7" width="1.5" height="1.5" fill="#747474"/><rect x="1193.6" y="400.8" width="1.9" height="1.9" fill="#646464"/><rect x="1171.9" y="155.9" width="2" height="2" fill="#9090e0"/><rect x="1176.8" y="157.6" width="1.7" height="1.7" fill="#9090e0"/><rect x="941.7" y="286.7" width="2" height="2" fill="#747474"/><rect x="992.3" y="212" width="1.9" height="1.9" fill="#7c7cd8"/><rect x="1221.4" y="195.3" width="2" height="2" fill="#9090e0"/><rect x="1226.1" y="196.7" width="2.2" height="2.2" fill="#747474"/><rect x="981.6" y="379" width="1.7" height="1.7" fill="#747474"/><rect x="1033.8" y="368.5" width="1.9" height="1.9" fill="#747474"/><rect x="1215.1" y="217.6" width="1.9" height="1.9" fill="#9090e0"/><rect x="1217.2" y="222.3" width="1.7" height="1.7" fill="#7ed87e"/><rect x="1219.1" y="226.7" width="2" height="2" fill="#86dede"/><rect x="1134.5" y="318.9" width="1.7" height="1.7" fill="#86dede"/><rect x="1143.8" y="242.2" width="1.9" height="1.9" fill="#747474"/><rect x="1148.7" y="242.2" width="2.1" height="2.1" fill="#9090e0"/><rect x="1103.9" y="308.8" width="2" height="2" fill="#d8d860"/><rect x="1097.6" y="242.6" width="1.7" height="1.7" fill="#747474"/><rect x="1102.4" y="243.2" width="2.1" height="2.1" fill="#7c7cd8"/><rect x="994.4" y="240" width="1.5" height="1.5" fill="#9090e0"/><rect x="991.3" y="243.9" width="1.6" height="1.6" fill="#747474"/><rect x="1127.3" y="200.3" width="2.1" height="2.1" fill="#646464"/><rect x="1240.2" y="210.2" width="2" height="2" fill="#747474"/><rect x="1242.1" y="214.9" width="1.8" height="1.8" fill="#9090e0"/><rect x="1243.6" y="219.4" width="2.2" height="2.2" fill="#9090e0"/><rect x="982.9" y="239.1" width="2.3" height="2.3" fill="#86dede"/><rect x="1239.9" y="244.2" width="1.8" height="1.8" fill="#747474"/><rect x="1213.7" y="377.1" width="1.6" height="1.6" fill="#747474"/><rect x="1215.5" y="381.5" width="2" height="2" fill="#747474"/><rect x="1121.7" y="182.1" width="1.9" height="1.9" fill="#747474"/><rect x="1121.5" y="187" width="2.1" height="2.1" fill="#747474"/><rect x="1086.9" y="163.9" width="2.2" height="2.2" fill="#747474"/><rect x="1102.2" y="304" width="1.9" height="1.9" fill="#747474"/><rect x="1102.3" y="308.8" width="2.3" height="2.3" fill="#747474"/><rect x="1138.6" y="248" width="2" height="2" fill="#7ed87e"/><rect x="1119.1" y="292.6" width="1.8" height="1.8" fill="#9090e0"/><rect x="1235.6" y="323.6" width="1.6" height="1.6" fill="#747474"/><rect x="1240.4" y="324.7" width="1.8" height="1.8" fill="#747474"/><rect x="1225.7" y="169.5" width="1.9" height="1.9" fill="#646464"/><rect x="1251.9" y="240.2" width="1.7" height="1.7" fill="#9090e0"/><rect x="1248.5" y="243.9" width="1.5" height="1.5" fill="#747474"/><rect x="1244.8" y="247.2" width="2.1" height="2.1" fill="#747474"/><rect x="1140.1" y="355.5" width="2" height="2" fill="#747474"/><rect x="1241.6" y="342.1" width="1.6" height="1.6" fill="#9090e0"/><rect x="990" y="321.3" width="1.7" height="1.7" fill="#747474"/><rect x="1059.2" y="176.1" width="1.6" height="1.6" fill="#9090e0"/><rect x="1060.7" y="180.9" width="1.5" height="1.5" fill="#747474"/><rect x="1062.2" y="185.6" width="1.7" height="1.7" fill="#747474"/><rect x="1022.9" y="170.2" width="2" height="2" fill="#747474"/><rect x="939" y="254.3" width="1.9" height="1.9" fill="#9090e0"/><rect x="942" y="258.2" width="1.9" height="1.9" fill="#747474"/><rect x="1202.2" y="355.5" width="2.1" height="2.1" fill="#e8a050"/><rect x="1199.3" y="359.5" width="2.1" height="2.1" fill="#9090e0"/><rect x="1241.4" y="322.1" width="2.1" height="2.1" fill="#646464"/><rect x="1013.5" y="371.4" width="1.6" height="1.6" fill="#9090e0"/><rect x="1015.6" y="375.9" width="1.6" height="1.6" fill="#747474"/><rect x="1017.4" y="380.4" width="1.9" height="1.9" fill="#747474"/><rect x="1020.8" y="286.3" width="2.1" height="2.1" fill="#7c7cd8"/><rect x="1016.1" y="287.8" width="1.8" height="1.8" fill="#747474"/><rect x="1011.5" y="289.4" width="1.5" height="1.5" fill="#9090e0"/><rect x="1201.4" y="277.5" width="2.2" height="2.2" fill="#747474"/><rect x="1196.8" y="279.5" width="2.2" height="2.2" fill="#9090e0"/><rect x="950.1" y="157.5" width="1.7" height="1.7" fill="#646464"/><rect x="947.7" y="161.9" width="2.1" height="2.1" fill="#747474"/><rect x="1173.6" y="325.5" width="2" height="2" fill="#646464"/><rect x="1117.7" y="269.1" width="1.9" height="1.9" fill="#747474"/><rect x="1118.7" y="273.9" width="2.1" height="2.1" fill="#747474"/><rect x="1053.9" y="98.8" width="2.2" height="2.2" fill="#9090e0"/><rect x="972.5" y="215.2" width="1.7" height="1.7" fill="#747474"/><rect x="975.4" y="219" width="2" height="2" fill="#747474"/><rect x="978.3" y="222.9" width="2.2" height="2.2" fill="#9090e0"/><rect x="1068.9" y="133.6" width="1.7" height="1.7" fill="#9090e0"/><rect x="1115.3" y="407" width="1.8" height="1.8" fill="#747474"/><rect x="1112.9" y="411.3" width="1.9" height="1.9" fill="#747474"/><rect x="1110.7" y="415.8" width="1.8" height="1.8" fill="#747474"/><rect x="970.9" y="303.2" width="1.7" height="1.7" fill="#9090e0"/><rect x="1068.9" y="300.2" width="1.6" height="1.6" fill="#747474"/><rect x="1064.6" y="302.9" width="2.2" height="2.2" fill="#747474"/><rect x="1060.9" y="306.2" width="1.6" height="1.6" fill="#747474"/><rect x="1038.1" y="347.9" width="1.8" height="1.8" fill="#747474"/><rect x="1174.5" y="237.5" width="2" height="2" fill="#747474"/><rect x="1100.4" y="284.1" width="1.7" height="1.7" fill="#747474"/><rect x="1114.8" y="141.9" width="1.8" height="1.8" fill="#747474"/><rect x="1024.7" y="199" width="2.1" height="2.1" fill="#747474"/><rect x="1030" y="199.6" width="1.6" height="1.6" fill="#9090e0"/><rect x="1072" y="307.3" width="1.5" height="1.5" fill="#747474"/><rect x="1076.8" y="307.6" width="2" height="2" fill="#9090e0"/><rect x="1081.9" y="308.3" width="1.7" height="1.7" fill="#747474"/><rect x="1203.6" y="115.6" width="2.2" height="2.2" fill="#9090e0"/><rect x="1207.4" y="119.1" width="2" height="2" fill="#747474"/><rect x="935.8" y="233.4" width="1.7" height="1.7" fill="#747474"/><rect x="940.5" y="234.7" width="1.8" height="1.8" fill="#747474"/><rect x="988.5" y="378" width="2.2" height="2.2" fill="#747474"/><rect x="993.3" y="379.9" width="2" height="2" fill="#747474"/><rect x="1074.2" y="274" width="2.1" height="2.1" fill="#747474"/><rect x="923.6" y="272.9" width="2" height="2" fill="#747474"/><rect x="928.5" y="273.8" width="2" height="2" fill="#747474"/><rect x="928" y="282.9" width="2.1" height="2.1" fill="#86dede"/><rect x="1097.1" y="77.2" width="1.7" height="1.7" fill="#747474"/><rect x="1153.8" y="250.6" width="1.8" height="1.8" fill="#747474"/><rect x="935.1" y="297.1" width="1.6" height="1.6" fill="#e8a050"/><rect x="974.1" y="241.4" width="2.2" height="2.2" fill="#747474"/><rect x="976.3" y="246.2" width="1.8" height="1.8" fill="#747474"/><rect x="998.7" y="161.4" width="2.1" height="2.1" fill="#646464"/><rect x="1159" y="160.1" width="1.8" height="1.8" fill="#747474"/><rect x="1154" y="160.3" width="1.8" height="1.8" fill="#9090e0"/><rect x="1148.8" y="160.3" width="2.3" height="2.3" fill="#747474"/><rect x="1026.7" y="336.6" width="1.9" height="1.9" fill="#747474"/><rect x="1031.2" y="339.1" width="1.7" height="1.7" fill="#747474"/><rect x="1035.4" y="341.4" width="2.1" height="2.1" fill="#747474"/><rect x="1186.6" y="396.7" width="1.7" height="1.7" fill="#747474"/><rect x="1241.9" y="213.6" width="2.1" height="2.1" fill="#646464"/><rect x="1239.6" y="218.2" width="1.6" height="1.6" fill="#646464"/><rect x="1134.4" y="318.2" width="2" height="2" fill="#747474"/><rect x="1130.2" y="321.1" width="1.9" height="1.9" fill="#747474"/><rect x="1047.6" y="371.8" width="1.6" height="1.6" fill="#9090e0"/><rect x="1052.1" y="373.7" width="1.7" height="1.7" fill="#747474"/><rect x="1152.4" y="417.5" width="2" height="2" fill="#9090e0"/><rect x="1148.6" y="420.7" width="1.8" height="1.8" fill="#9090e0"/><rect x="1214.6" y="367.1" width="2.2" height="2.2" fill="#86dede"/><rect x="1215" y="372.4" width="1.6" height="1.6" fill="#9090e0"/><rect x="1074.6" y="228.9" width="1.7" height="1.7" fill="#9090e0"/><rect x="1069.7" y="230" width="1.6" height="1.6" fill="#9090e0"/><rect x="1159.6" y="136.2" width="2.2" height="2.2" fill="#747474"/><rect x="1050.1" y="129.3" width="2" height="2" fill="#747474"/><rect x="1047.6" y="210.7" width="2.1" height="2.1" fill="#747474"/><rect x="1240.9" y="296.4" width="2.2" height="2.2" fill="#7ed87e"/><rect x="1220.9" y="120.8" width="1.5" height="1.5" fill="#646464"/><rect x="1188.1" y="284.3" width="2" height="2" fill="#646464"/><rect x="1191.2" y="288.6" width="1.6" height="1.6" fill="#7c7cd8"/><rect x="1193.9" y="292.6" width="1.9" height="1.9" fill="#9090e0"/><rect x="1126.2" y="132.4" width="2.1" height="2.1" fill="#747474"/><rect x="1142.8" y="172.6" width="1.6" height="1.6" fill="#747474"/><rect x="1139.6" y="176.4" width="2.1" height="2.1" fill="#747474"/><rect x="997" y="274.9" width="2.1" height="2.1" fill="#9090e0"/><rect x="997.4" y="280.1" width="1.8" height="1.8" fill="#7c7cd8"/><rect x="1125.7" y="351.7" width="1.6" height="1.6" fill="#7ed87e"/><rect x="1122.3" y="355.3" width="1.8" height="1.8" fill="#9090e0"/><rect x="1118.7" y="358.9" width="2.3" height="2.3" fill="#747474"/><rect x="1142.7" y="417.7" width="2.1" height="2.1" fill="#747474"/><rect x="1176.9" y="302.1" width="2" height="2" fill="#747474"/><rect x="1174.9" y="306.8" width="1.8" height="1.8" fill="#9090e0"/><rect x="1158.1" y="94" width="2" height="2" fill="#646464"/><rect x="1055.1" y="205.1" width="1.6" height="1.6" fill="#9090e0"/><rect x="1214.9" y="228.4" width="1.8" height="1.8" fill="#9090e0"/><rect x="1215.6" y="233.5" width="1.6" height="1.6" fill="#9090e0"/><rect x="1215.8" y="238.2" width="2.2" height="2.2" fill="#747474"/><rect x="1040.3" y="380.3" width="1.6" height="1.6" fill="#747474"/><rect x="1030.5" y="213.4" width="2" height="2" fill="#747474"/><rect x="1031.1" y="218.6" width="1.6" height="1.6" fill="#747474"/><rect x="1264.4" y="229.3" width="1.9" height="1.9" fill="#646464"/><rect x="1265.2" y="234.1" width="2.1" height="2.1" fill="#747474"/><rect x="1266.1" y="239.1" width="2.1" height="2.1" fill="#747474"/><rect x="1117.5" y="383.4" width="2.1" height="2.1" fill="#747474"/><rect x="1169.4" y="241.3" width="2.1" height="2.1" fill="#646464"/><rect x="1230.8" y="346.9" width="1.7" height="1.7" fill="#747474"/><rect x="1093.5" y="412.6" width="1.7" height="1.7" fill="#747474"/><rect x="993.6" y="275.8" width="2.1" height="2.1" fill="#747474"/><rect x="990" y="279.1" width="1.6" height="1.6" fill="#7c7cd8"/><rect x="985.9" y="282.1" width="1.9" height="1.9" fill="#9090e0"/><rect x="1072.1" y="251.4" width="2.1" height="2.1" fill="#747474"/><rect x="952.9" y="340.4" width="2" height="2" fill="#747474"/><rect x="1154.1" y="105.7" width="2.2" height="2.2" fill="#9090e0"/><rect x="1151.7" y="110.2" width="1.6" height="1.6" fill="#747474"/><rect x="959.4" y="343.4" width="1.7" height="1.7" fill="#747474"/><rect x="960.5" y="347.9" width="2.2" height="2.2" fill="#86dede"/><rect x="962.1" y="352.9" width="1.9" height="1.9" fill="#d8d860"/><rect x="1208" y="350" width="1.5" height="1.5" fill="#86dede"/><rect x="1203" y="351.3" width="2" height="2" fill="#646464"/><rect x="1166.7" y="147.9" width="2" height="2" fill="#747474"/><rect x="1161" y="222.7" width="1.5" height="1.5" fill="#9090e0"/><rect x="1004.6" y="286.5" width="1.5" height="1.5" fill="#747474"/><rect x="1131.9" y="267.6" width="1.6" height="1.6" fill="#9090e0"/><rect x="1134.7" y="271.4" width="2" height="2" fill="#747474"/><rect x="1196.7" y="247.1" width="2" height="2" fill="#9090e0"/><rect x="999.1" y="133.8" width="1.7" height="1.7" fill="#646464"/><rect x="1207.4" y="227.4" width="1.7" height="1.7" fill="#747474"/><rect x="950.1" y="268.6" width="1.7" height="1.7" fill="#9090e0"/><rect x="952" y="273.3" width="1.5" height="1.5" fill="#747474"/><rect x="941" y="302.3" width="2" height="2" fill="#747474"/><rect x="945.1" y="305.3" width="2" height="2" fill="#747474"/><rect x="1132.1" y="310.6" width="1.5" height="1.5" fill="#747474"/><rect x="1220.9" y="318.5" width="1.9" height="1.9" fill="#7c7cd8"/><rect x="1103.8" y="192.9" width="2.1" height="2.1" fill="#747474"/><rect x="1099.8" y="196" width="1.8" height="1.8" fill="#747474"/><rect x="1185" y="337.4" width="2" height="2" fill="#747474"/><rect x="1151.8" y="128.1" width="2.2" height="2.2" fill="#747474"/><rect x="1021.5" y="294.3" width="2.3" height="2.3" fill="#646464"/><rect x="960.2" y="211.3" width="1.6" height="1.6" fill="#7c7cd8"/><rect x="1235.8" y="307.9" width="2" height="2" fill="#7c7cd8"/><rect x="1234.5" y="312.8" width="2" height="2" fill="#747474"/><rect x="1233.2" y="317.6" width="1.9" height="1.9" fill="#747474"/><rect x="1038.8" y="367.5" width="2.1" height="2.1" fill="#747474"/><rect x="1036.9" y="372.2" width="1.7" height="1.7" fill="#747474"/><rect x="1194.8" y="334" width="1.7" height="1.7" fill="#747474"/><rect x="1194.6" y="338.9" width="1.9" height="1.9" fill="#7c7cd8"/><rect x="1194.5" y="343.9" width="2" height="2" fill="#646464"/><rect x="1106" y="367.3" width="1.6" height="1.6" fill="#9090e0"/><rect x="1106.6" y="372.3" width="1.6" height="1.6" fill="#646464"/><rect x="1107.4" y="229.5" width="1.7" height="1.7" fill="#747474"/><rect x="1110.9" y="233.1" width="1.7" height="1.7" fill="#646464"/><rect x="1114.2" y="236.5" width="2.1" height="2.1" fill="#747474"/><rect x="1218.6" y="332" width="1.9" height="1.9" fill="#646464"/><rect x="1223.2" y="333.5" width="2.2" height="2.2" fill="#747474"/><rect x="1207" y="220.7" width="2.1" height="2.1" fill="#747474"/><rect x="1090.7" y="106.4" width="1.8" height="1.8" fill="#747474"/><rect x="1092.3" y="111.3" width="1.6" height="1.6" fill="#747474"/><rect x="996.1" y="242" width="1.7" height="1.7" fill="#9090e0"/><rect x="1092.5" y="99.3" width="1.7" height="1.7" fill="#7c7cd8"/><rect x="1127.7" y="130.2" width="2.2" height="2.2" fill="#e8a050"/><rect x="1152.3" y="370.4" width="2" height="2" fill="#747474"/><rect x="1123.7" y="350.3" width="1.9" height="1.9" fill="#747474"/><rect x="1258.7" y="229" width="1.7" height="1.7" fill="#747474"/><rect x="1083.8" y="261.9" width="1.9" height="1.9" fill="#747474"/><rect x="1084.7" y="266.7" width="2.1" height="2.1" fill="#646464"/><rect x="1243.4" y="346.5" width="1.6" height="1.6" fill="#747474"/><rect x="1065.4" y="118.3" width="1.7" height="1.7" fill="#747474"/><rect x="1225.3" y="298.3" width="2" height="2" fill="#9090e0"/><rect x="1004.8" y="151" width="2.2" height="2.2" fill="#646464"/><rect x="1000.3" y="152.9" width="1.9" height="1.9" fill="#747474"/><rect x="1087.9" y="361.8" width="2.1" height="2.1" fill="#e8a050"/><rect x="1092.2" y="364.8" width="1.8" height="1.8" fill="#9090e0"/><rect x="1096.4" y="367.7" width="1.7" height="1.7" fill="#747474"/><rect x="1063.1" y="392.8" width="1.6" height="1.6" fill="#747474"/><rect x="1067.8" y="393.3" width="2.1" height="2.1" fill="#747474"/><rect x="1229.4" y="189.9" width="1.9" height="1.9" fill="#9090e0"/><rect x="1226.8" y="194.2" width="2.1" height="2.1" fill="#747474"/><rect x="1074.8" y="303.6" width="2" height="2" fill="#747474"/><rect x="1149.1" y="210.2" width="1.7" height="1.7" fill="#9090e0"/><rect x="1153.4" y="212" width="2.1" height="2.1" fill="#747474"/><rect x="1061.2" y="254.3" width="1.6" height="1.6" fill="#747474"/><rect x="1076.7" y="257" width="1.6" height="1.6" fill="#747474"/><rect x="1076.9" y="262" width="1.6" height="1.6" fill="#747474"/><rect x="1208" y="285.3" width="1.8" height="1.8" fill="#747474"/><rect x="1210.3" y="289.6" width="1.9" height="1.9" fill="#646464"/><rect x="1212.7" y="293.9" width="2" height="2" fill="#747474"/><rect x="1179.3" y="248" width="2.2" height="2.2" fill="#747474"/><rect x="1198.9" y="118.1" width="2.2" height="2.2" fill="#86dede"/><rect x="1199.2" y="123.2" width="2" height="2" fill="#646464"/><rect x="1209.3" y="258.5" width="1.9" height="1.9" fill="#86dede"/><rect x="1212.9" y="262.4" width="1.6" height="1.6" fill="#646464"/><rect x="1217.3" y="333.3" width="2" height="2" fill="#9090e0"/><rect x="1217.4" y="338.3" width="2" height="2" fill="#747474"/><rect x="1221.3" y="121.6" width="1.8" height="1.8" fill="#646464"/><rect x="979.4" y="167.1" width="1.7" height="1.7" fill="#7c7cd8"/><rect x="984.4" y="167.1" width="1.8" height="1.8" fill="#646464"/><path d="M1001.1 388.5 L1011.2 378.4 L1015.2 379.8 L1027.1 376.3 L1060.3 357.2 L1062.1 353.2 L1084.1 347.1 L1086.8 330.7 L1090.2 317.4 L1086 310.8 L1084.9 283 L1098.7 268.4 L1100.8 264.4 L1098.7 261.2 L1121.3 218 L1125.8 212.7 L1126.6 208.7 L1137.2 204.2 L1145.1 191.5 L1152.3 183.5 L1170.3 171.1 L1166.3 163.6 L1183.1 133.9 L1212.2 132.4 L1208.8 120.7" fill="none" stroke="#222222" stroke-width="2.7" stroke-linejoin="round" stroke-linecap="round"/><rect x="1206" y="114" width="2.6" height="2.6" fill="#e8804a"/><rect x="1205.6" y="110.5" width="2.6" height="2.6" fill="#e8804a"/><rect x="1183" y="106.5" width="2.6" height="2.6" fill="#e8804a"/>
<rect x="1320" y="67" width="372.5" height="371.6" fill="#1d2c46"/><rect x="1691.5" y="106" width="119.7" height="332.6" fill="#1d2c46"/><g clip-path="url(#clipB)"><ellipse cx="1506.4" cy="252.3" rx="186.6" ry="179.2" transform="rotate(43.5 1506.4 252.3)" fill="#ffffff" stroke="#0c0c0c" stroke-width="1.8"/><rect x="1381.5" y="289.5" width="2" height="2" fill="#505050"/><rect x="1376.6" y="290.7" width="1.9" height="1.9" fill="#505050"/><rect x="1371.4" y="272.2" width="1.4" height="1.4" fill="#505050"/><rect x="1375.4" y="274.7" width="1.9" height="1.9" fill="#7a7a7a"/><rect x="1671.4" y="296.1" width="1.8" height="1.8" fill="#7a7a7a"/><rect x="1666.3" y="296.6" width="2" height="2" fill="#7a7a7a"/><rect x="1661.7" y="297.4" width="1.3" height="1.3" fill="#505050"/><rect x="1603" y="159.2" width="2" height="2" fill="#505050"/><rect x="1367.8" y="234.8" width="1.8" height="1.8" fill="#505050"/><rect x="1367.8" y="239.8" width="1.7" height="1.7" fill="#505050"/><rect x="1368" y="245" width="1.4" height="1.4" fill="#5a5aff"/><rect x="1501.7" y="402.2" width="1.9" height="1.9" fill="#505050"/><rect x="1376.5" y="345.1" width="1.3" height="1.3" fill="#5a5aff"/><rect x="1547.1" y="411.8" width="1.4" height="1.4" fill="#505050"/><rect x="1547.3" y="416.4" width="1.9" height="1.9" fill="#7a7a7a"/><rect x="1499.4" y="302.4" width="1.4" height="1.4" fill="#7a7a7a"/><rect x="1501.9" y="306.7" width="1.4" height="1.4" fill="#505050"/><rect x="1649.5" y="308.3" width="1.7" height="1.7" fill="#505050"/><rect x="1653.6" y="310.9" width="1.9" height="1.9" fill="#ff4040"/><rect x="1411.5" y="303.5" width="2" height="2" fill="#505050"/><rect x="1637.4" y="230.5" width="1.6" height="1.6" fill="#505050"/><rect x="1590.3" y="141.5" width="1.5" height="1.5" fill="#505050"/><rect x="1519.8" y="153.1" width="1.5" height="1.5" fill="#505050"/><rect x="1491.3" y="234.9" width="2.1" height="2.1" fill="#505050"/><rect x="1493.4" y="239.7" width="1.8" height="1.8" fill="#505050"/><rect x="1555.2" y="196.4" width="1.5" height="1.5" fill="#7a7a7a"/><rect x="1560.6" y="390" width="1.6" height="1.6" fill="#7a7a7a"/><rect x="1457.1" y="256.6" width="2.1" height="2.1" fill="#505050"/><rect x="1516.1" y="396.6" width="1.7" height="1.7" fill="#505050"/><rect x="1519.4" y="400" width="2.1" height="2.1" fill="#5a5aff"/><rect x="1589.8" y="337.1" width="1.5" height="1.5" fill="#7a7a7a"/><rect x="1587.5" y="341.6" width="1.5" height="1.5" fill="#5a5aff"/><rect x="1595.1" y="260.9" width="1.5" height="1.5" fill="#505050"/><rect x="1337.6" y="218.2" width="2.1" height="2.1" fill="#5a5aff"/><rect x="1425.8" y="131.1" width="2" height="2" fill="#505050"/><rect x="1403.1" y="267.7" width="1.8" height="1.8" fill="#505050"/><rect x="1358.3" y="267.9" width="1.7" height="1.7" fill="#505050"/><rect x="1492" y="87.3" width="2.1" height="2.1" fill="#505050"/><rect x="1488.9" y="91.4" width="1.4" height="1.4" fill="#505050"/><rect x="1485.5" y="95" width="1.4" height="1.4" fill="#505050"/><rect x="1610.7" y="119.8" width="1.8" height="1.8" fill="#505050"/><rect x="1615.7" y="120.3" width="1.8" height="1.8" fill="#505050"/><rect x="1467.4" y="220.3" width="1.9" height="1.9" fill="#5a5aff"/><rect x="1391.9" y="347.3" width="1.7" height="1.7" fill="#505050"/><rect x="1390.7" y="352.1" width="1.7" height="1.7" fill="#505050"/><rect x="1486.5" y="299.1" width="1.9" height="1.9" fill="#505050"/><rect x="1491.6" y="299.5" width="1.7" height="1.7" fill="#7a7a7a"/><rect x="1496.6" y="299.9" width="1.6" height="1.6" fill="#5a5aff"/><rect x="1589.9" y="357.7" width="1.7" height="1.7" fill="#7a7a7a"/><rect x="1582.5" y="189" width="1.9" height="1.9" fill="#7a7a7a"/><rect x="1507.9" y="174" width="1.6" height="1.6" fill="#505050"/><rect x="1585.5" y="343.5" width="2.1" height="2.1" fill="#7a7a7a"/><rect x="1493.5" y="321.6" width="2" height="2" fill="#5a5aff"/><rect x="1412.9" y="335.4" width="2.1" height="2.1" fill="#5a5aff"/><rect x="1410.7" y="340" width="1.4" height="1.4" fill="#505050"/><rect x="1407.8" y="344" width="2" height="2" fill="#505050"/><rect x="1646.5" y="289" width="1.8" height="1.8" fill="#7a7a7a"/><rect x="1435.9" y="166.1" width="1.4" height="1.4" fill="#505050"/><rect x="1637.1" y="291.4" width="1.8" height="1.8" fill="#505050"/><rect x="1638.1" y="296.5" width="1.4" height="1.4" fill="#505050"/><rect x="1638.7" y="301.2" width="2" height="2" fill="#505050"/><rect x="1500.1" y="398" width="1.4" height="1.4" fill="#7a7a7a"/><rect x="1496.5" y="401.4" width="1.6" height="1.6" fill="#505050"/><rect x="1464.8" y="133.1" width="1.9" height="1.9" fill="#505050"/><rect x="1548.1" y="223" width="1.7" height="1.7" fill="#505050"/><rect x="1543.1" y="223.9" width="2" height="2" fill="#505050"/><rect x="1538.3" y="225.1" width="1.7" height="1.7" fill="#505050"/><rect x="1434.9" y="150.8" width="1.8" height="1.8" fill="#505050"/><rect x="1546.9" y="393" width="1.4" height="1.4" fill="#5a5aff"/><rect x="1542.6" y="395.6" width="1.6" height="1.6" fill="#505050"/><rect x="1538.4" y="398.4" width="1.5" height="1.5" fill="#505050"/><rect x="1671.2" y="227.1" width="1.6" height="1.6" fill="#5a5aff"/><rect x="1674.6" y="230.8" width="1.7" height="1.7" fill="#505050"/><rect x="1677.8" y="234.3" width="1.9" height="1.9" fill="#505050"/><rect x="1476.6" y="253.9" width="1.3" height="1.3" fill="#505050"/><rect x="1365" y="221.8" width="1.7" height="1.7" fill="#505050"/><rect x="1360" y="222.9" width="2" height="2" fill="#7a7a7a"/><rect x="1443" y="95.1" width="1.5" height="1.5" fill="#505050"/><rect x="1443.1" y="100" width="1.5" height="1.5" fill="#505050"/><rect x="1443" y="104.9" width="1.8" height="1.8" fill="#7a7a7a"/><rect x="1347.8" y="228.6" width="2.1" height="2.1" fill="#7a7a7a"/><rect x="1598.2" y="152.8" width="1.7" height="1.7" fill="#5a5aff"/><rect x="1435.9" y="217.1" width="1.6" height="1.6" fill="#505050"/><rect x="1435.5" y="222.2" width="1.3" height="1.3" fill="#505050"/><rect x="1616.5" y="187.9" width="1.9" height="1.9" fill="#505050"/><rect x="1622" y="302.7" width="1.7" height="1.7" fill="#505050"/><rect x="1623.4" y="307.5" width="1.6" height="1.6" fill="#505050"/><rect x="1571.6" y="100.8" width="1.6" height="1.6" fill="#505050"/><rect x="1592.6" y="267.8" width="1.4" height="1.4" fill="#505050"/><rect x="1597.9" y="258.5" width="1.4" height="1.4" fill="#7a7a7a"/><rect x="1498.2" y="191.1" width="1.9" height="1.9" fill="#7a7a7a"/><rect x="1524.7" y="233.2" width="1.7" height="1.7" fill="#7a7a7a"/><rect x="1522.6" y="237.8" width="1.7" height="1.7" fill="#5a5aff"/><rect x="1521.6" y="330.6" width="1.5" height="1.5" fill="#5a5aff"/><rect x="1520.7" y="335.3" width="1.9" height="1.9" fill="#7a7a7a"/><rect x="1585.1" y="195.3" width="2.1" height="2.1" fill="#505050"/><rect x="1553.8" y="210.3" width="1.6" height="1.6" fill="#505050"/><rect x="1557.3" y="213.5" width="2.1" height="2.1" fill="#505050"/><rect x="1561" y="217" width="1.9" height="1.9" fill="#505050"/><rect x="1547.4" y="382.2" width="1.8" height="1.8" fill="#505050"/><rect x="1650.4" y="161.3" width="1.6" height="1.6" fill="#7a7a7a"/><rect x="1654.9" y="162.9" width="2" height="2" fill="#ff4040"/><rect x="1544.6" y="137.5" width="2" height="2" fill="#7a7a7a"/><rect x="1549.9" y="138.2" width="1.5" height="1.5" fill="#505050"/><rect x="1559.7" y="299.2" width="1.4" height="1.4" fill="#5a5aff"/><rect x="1662" y="315.6" width="1.7" height="1.7" fill="#505050"/><rect x="1392.6" y="240.7" width="1.3" height="1.3" fill="#7a7a7a"/><rect x="1539.7" y="356.9" width="1.5" height="1.5" fill="#505050"/><rect x="1568.6" y="358.2" width="1.9" height="1.9" fill="#7a7a7a"/><rect x="1593.7" y="145.8" width="1.8" height="1.8" fill="#505050"/><rect x="1595.1" y="150.6" width="1.9" height="1.9" fill="#505050"/><rect x="1494.7" y="309.6" width="1.6" height="1.6" fill="#7a7a7a"/><rect x="1635" y="153.1" width="1.6" height="1.6" fill="#7a7a7a"/><rect x="1632.3" y="157.3" width="1.4" height="1.4" fill="#7a7a7a"/><rect x="1440.7" y="350.8" width="2" height="2" fill="#ff4040"/><rect x="1591.7" y="279.1" width="1.8" height="1.8" fill="#505050"/><rect x="1390.8" y="197.8" width="1.9" height="1.9" fill="#7a7a7a"/><rect x="1392.4" y="202.4" width="2.1" height="2.1" fill="#7a7a7a"/><rect x="1640.1" y="270.9" width="1.7" height="1.7" fill="#505050"/><rect x="1515.3" y="112.1" width="2" height="2" fill="#505050"/><rect x="1388.2" y="213.4" width="1.4" height="1.4" fill="#5a5aff"/><rect x="1383" y="213.7" width="1.8" height="1.8" fill="#505050"/><rect x="1370.7" y="208.3" width="1.4" height="1.4" fill="#5a5aff"/><rect x="1365.8" y="209" width="1.4" height="1.4" fill="#505050"/><rect x="1370.1" y="255.3" width="1.7" height="1.7" fill="#505050"/><rect x="1375" y="256.2" width="1.6" height="1.6" fill="#7a7a7a"/><rect x="1474.2" y="388.1" width="1.9" height="1.9" fill="#7a7a7a"/><rect x="1655.7" y="276.9" width="1.9" height="1.9" fill="#505050"/><rect x="1654.3" y="281.7" width="2" height="2" fill="#505050"/><rect x="1653.3" y="286.9" width="1.3" height="1.3" fill="#7a7a7a"/><rect x="1673.6" y="239.6" width="1.7" height="1.7" fill="#505050"/><rect x="1590.1" y="237.2" width="1.4" height="1.4" fill="#5a5aff"/><rect x="1589.7" y="242.2" width="1.5" height="1.5" fill="#5a5aff"/><rect x="1589.4" y="247.2" width="1.3" height="1.3" fill="#7a7a7a"/><rect x="1454" y="281.2" width="1.4" height="1.4" fill="#505050"/><rect x="1372.8" y="301.2" width="1.8" height="1.8" fill="#7a7a7a"/><rect x="1407.3" y="364.1" width="1.9" height="1.9" fill="#5a5aff"/><rect x="1509.9" y="309.9" width="1.6" height="1.6" fill="#7a7a7a"/><rect x="1505" y="311.4" width="1.8" height="1.8" fill="#505050"/><rect x="1383.2" y="198.7" width="1.5" height="1.5" fill="#505050"/><rect x="1670.3" y="230.6" width="1.3" height="1.3" fill="#7a7a7a"/><rect x="1504" y="280" width="1.4" height="1.4" fill="#505050"/><rect x="1627.6" y="325.1" width="1.7" height="1.7" fill="#ff4040"/><rect x="1626.9" y="330.1" width="1.6" height="1.6" fill="#505050"/><rect x="1626.2" y="335.2" width="1.4" height="1.4" fill="#505050"/><rect x="1611.5" y="137.9" width="1.9" height="1.9" fill="#5a5aff"/><rect x="1612.3" y="142.8" width="1.9" height="1.9" fill="#505050"/><rect x="1453.6" y="294.3" width="1.7" height="1.7" fill="#505050"/><rect x="1457.9" y="296.5" width="2" height="2" fill="#7a7a7a"/><rect x="1411.1" y="297.9" width="1.4" height="1.4" fill="#505050"/><rect x="1394.7" y="204.3" width="1.3" height="1.3" fill="#7a7a7a"/><rect x="1444.4" y="405.1" width="1.9" height="1.9" fill="#505050"/><rect x="1443" y="410" width="1.5" height="1.5" fill="#7a7a7a"/><rect x="1570.2" y="332.6" width="1.6" height="1.6" fill="#5a5aff"/><rect x="1381" y="299.9" width="1.7" height="1.7" fill="#5a5aff"/><rect x="1376.3" y="301.5" width="1.5" height="1.5" fill="#7a7a7a"/><rect x="1371.4" y="303" width="1.6" height="1.6" fill="#505050"/><rect x="1656.1" y="186.2" width="1.3" height="1.3" fill="#7a7a7a"/><rect x="1446.7" y="132.5" width="1.9" height="1.9" fill="#505050"/><rect x="1442.7" y="135.4" width="2" height="2" fill="#505050"/><rect x="1439" y="138.7" width="1.4" height="1.4" fill="#505050"/><rect x="1514.9" y="89.2" width="1.3" height="1.3" fill="#505050"/><rect x="1556.7" y="330.6" width="1.7" height="1.7" fill="#505050"/><rect x="1561.9" y="331.2" width="1.4" height="1.4" fill="#7a7a7a"/><rect x="1635.2" y="324.5" width="1.8" height="1.8" fill="#505050"/><rect x="1633.6" y="341.4" width="1.9" height="1.9" fill="#505050"/><rect x="1634.8" y="346.2" width="1.9" height="1.9" fill="#505050"/><rect x="1636.2" y="351.2" width="1.6" height="1.6" fill="#505050"/><rect x="1645.1" y="223.5" width="1.4" height="1.4" fill="#7a7a7a"/><rect x="1645.2" y="228.5" width="1.3" height="1.3" fill="#7a7a7a"/><rect x="1513" y="79.4" width="2" height="2" fill="#7a7a7a"/><rect x="1635.5" y="142.4" width="1.3" height="1.3" fill="#505050"/><rect x="1633.1" y="146.5" width="2" height="2" fill="#505050"/><rect x="1579.8" y="208.1" width="1.4" height="1.4" fill="#505050"/><rect x="1584.1" y="210.4" width="1.6" height="1.6" fill="#505050"/><rect x="1588.2" y="212.7" width="2.1" height="2.1" fill="#505050"/><rect x="1595.1" y="286.3" width="2" height="2" fill="#505050"/><rect x="1599.8" y="288.1" width="1.9" height="1.9" fill="#5a5aff"/><rect x="1604.6" y="290" width="1.7" height="1.7" fill="#505050"/><rect x="1535.8" y="159.5" width="1.5" height="1.5" fill="#505050"/><rect x="1478.3" y="120.6" width="1.6" height="1.6" fill="#5a5aff"/><rect x="1647.7" y="162.2" width="1.5" height="1.5" fill="#505050"/><rect x="1645.5" y="166.6" width="2" height="2" fill="#5a5aff"/><rect x="1435.5" y="358.9" width="1.6" height="1.6" fill="#5a5aff"/><rect x="1430.6" y="359.7" width="1.4" height="1.4" fill="#505050"/><rect x="1556.9" y="88.2" width="1.3" height="1.3" fill="#7a7a7a"/><rect x="1651.2" y="176.5" width="1.5" height="1.5" fill="#505050"/><rect x="1362.6" y="328.1" width="2" height="2" fill="#505050"/><rect x="1528.6" y="193.1" width="1.7" height="1.7" fill="#505050"/><rect x="1525.1" y="196.6" width="1.9" height="1.9" fill="#505050"/><rect x="1662.8" y="252.9" width="1.5" height="1.5" fill="#505050"/><rect x="1494.2" y="198.5" width="1.9" height="1.9" fill="#505050"/><rect x="1494.6" y="203.6" width="1.7" height="1.7" fill="#505050"/><rect x="1580" y="260.3" width="2" height="2" fill="#505050"/><rect x="1584.2" y="263.2" width="1.7" height="1.7" fill="#505050"/><rect x="1588.5" y="266.2" width="1.4" height="1.4" fill="#505050"/><rect x="1553" y="167.1" width="2.1" height="2.1" fill="#505050"/><rect x="1483.3" y="212.6" width="1.6" height="1.6" fill="#505050"/><rect x="1339.8" y="291.9" width="2" height="2" fill="#505050"/><rect x="1477.3" y="135.6" width="1.3" height="1.3" fill="#505050"/><rect x="1660.3" y="243.2" width="1.8" height="1.8" fill="#505050"/><rect x="1664.2" y="246.2" width="1.9" height="1.9" fill="#5a5aff"/><rect x="1650.1" y="208.7" width="1.5" height="1.5" fill="#505050"/><rect x="1493.9" y="152.6" width="1.8" height="1.8" fill="#505050"/><rect x="1489.1" y="153.5" width="1.6" height="1.6" fill="#505050"/><rect x="1615.3" y="333.2" width="1.4" height="1.4" fill="#7a7a7a"/><rect x="1619.6" y="335" width="2" height="2" fill="#505050"/><rect x="1624.5" y="337.3" width="1.4" height="1.4" fill="#505050"/><rect x="1515.7" y="319.5" width="1.6" height="1.6" fill="#7a7a7a"/><rect x="1520.1" y="321.1" width="2" height="2" fill="#7a7a7a"/><rect x="1556.1" y="311.8" width="1.6" height="1.6" fill="#505050"/><rect x="1560.7" y="314.1" width="1.3" height="1.3" fill="#505050"/><rect x="1564.9" y="316.1" width="1.9" height="1.9" fill="#505050"/><rect x="1658.7" y="234.1" width="1.5" height="1.5" fill="#505050"/><rect x="1656.3" y="238.5" width="1.5" height="1.5" fill="#505050"/><rect x="1384.7" y="298" width="2" height="2" fill="#7a7a7a"/><rect x="1452.9" y="207.1" width="1.6" height="1.6" fill="#505050"/><rect x="1440.2" y="251.2" width="1.9" height="1.9" fill="#ff4040"/><rect x="1437.1" y="255.2" width="1.8" height="1.8" fill="#5a5aff"/><rect x="1644.3" y="274.9" width="1.8" height="1.8" fill="#505050"/><rect x="1472.9" y="157.3" width="2" height="2" fill="#505050"/><rect x="1364" y="295.2" width="1.7" height="1.7" fill="#505050"/><rect x="1367.8" y="298.7" width="1.5" height="1.5" fill="#505050"/><rect x="1650.8" y="158.1" width="2" height="2" fill="#505050"/><rect x="1646.7" y="161" width="1.8" height="1.8" fill="#505050"/><rect x="1406.7" y="365.5" width="1.7" height="1.7" fill="#505050"/><rect x="1533" y="265.7" width="1.9" height="1.9" fill="#505050"/><rect x="1537.1" y="268.3" width="2" height="2" fill="#5a5aff"/><rect x="1541.5" y="271.1" width="1.8" height="1.8" fill="#7a7a7a"/><rect x="1511.4" y="182.7" width="1.6" height="1.6" fill="#505050"/><rect x="1439.9" y="220.7" width="2" height="2" fill="#505050"/><rect x="1650.5" y="302.1" width="1.7" height="1.7" fill="#505050"/><rect x="1587.1" y="312.7" width="1.6" height="1.6" fill="#505050"/><rect x="1582.1" y="314.1" width="2" height="2" fill="#505050"/><rect x="1577.4" y="315.7" width="2" height="2" fill="#505050"/><rect x="1447.8" y="104.9" width="1.7" height="1.7" fill="#5a5aff"/><rect x="1393.1" y="233.7" width="1.5" height="1.5" fill="#5a5aff"/><rect x="1420.6" y="175.4" width="1.5" height="1.5" fill="#7a7a7a"/><rect x="1467.3" y="225.9" width="2" height="2" fill="#505050"/><rect x="1472.1" y="228" width="1.7" height="1.7" fill="#5a5aff"/><rect x="1636.1" y="353.2" width="1.5" height="1.5" fill="#505050"/><rect x="1635.1" y="357.9" width="2" height="2" fill="#505050"/><rect x="1634.5" y="362.9" width="1.8" height="1.8" fill="#5a5aff"/><rect x="1580.8" y="167.8" width="1.6" height="1.6" fill="#7a7a7a"/><rect x="1538.8" y="283.8" width="1.7" height="1.7" fill="#505050"/><rect x="1509.6" y="250.3" width="1.4" height="1.4" fill="#505050"/><rect x="1397.2" y="293.7" width="1.8" height="1.8" fill="#505050"/><rect x="1535" y="260.3" width="1.4" height="1.4" fill="#505050"/><rect x="1530.9" y="100.7" width="2" height="2" fill="#505050"/><rect x="1566.8" y="205.3" width="1.3" height="1.3" fill="#5a5aff"/><rect x="1410.2" y="142.7" width="1.5" height="1.5" fill="#7a7a7a"/><rect x="1409.3" y="147.7" width="1.3" height="1.3" fill="#5a5aff"/><rect x="1621.5" y="342.7" width="1.9" height="1.9" fill="#5a5aff"/><rect x="1601.4" y="360" width="1.4" height="1.4" fill="#505050"/><rect x="1596.5" y="361" width="1.4" height="1.4" fill="#5a5aff"/><rect x="1472.9" y="167.5" width="1.9" height="1.9" fill="#7a7a7a"/><rect x="1469.8" y="171.4" width="1.8" height="1.8" fill="#505050"/><rect x="1605.2" y="163.2" width="1.4" height="1.4" fill="#5a5aff"/><rect x="1515.1" y="313.9" width="1.7" height="1.7" fill="#ff4040"/><rect x="1512.5" y="318.2" width="1.7" height="1.7" fill="#505050"/><rect x="1634.4" y="289.2" width="1.8" height="1.8" fill="#505050"/><rect x="1593.7" y="399.5" width="1.7" height="1.7" fill="#505050"/><rect x="1569.3" y="402.5" width="2" height="2" fill="#7a7a7a"/><rect x="1497.8" y="246.9" width="1.7" height="1.7" fill="#505050"/><rect x="1441.8" y="169.3" width="1.7" height="1.7" fill="#505050"/><rect x="1586.3" y="132.9" width="1.9" height="1.9" fill="#505050"/><rect x="1586.1" y="138" width="1.8" height="1.8" fill="#505050"/><rect x="1516.2" y="366.1" width="1.5" height="1.5" fill="#7a7a7a"/><rect x="1512.5" y="369.4" width="1.5" height="1.5" fill="#505050"/><rect x="1508.6" y="372.6" width="1.7" height="1.7" fill="#505050"/><rect x="1636" y="280.8" width="2" height="2" fill="#505050"/><rect x="1633" y="284.8" width="1.8" height="1.8" fill="#505050"/><rect x="1384.6" y="153.2" width="1.9" height="1.9" fill="#505050"/><rect x="1384.5" y="158.2" width="2" height="2" fill="#505050"/><rect x="1384.6" y="163.3" width="1.7" height="1.7" fill="#505050"/><rect x="1527.3" y="169.7" width="1.9" height="1.9" fill="#505050"/><rect x="1568.6" y="116.5" width="1.8" height="1.8" fill="#505050"/><rect x="1564.9" y="119.7" width="1.6" height="1.6" fill="#505050"/><rect x="1507.2" y="373.8" width="1.3" height="1.3" fill="#7a7a7a"/><rect x="1504.6" y="378.1" width="1.6" height="1.6" fill="#505050"/><rect x="1541.4" y="418.4" width="1.8" height="1.8" fill="#7a7a7a"/><rect x="1546.3" y="419" width="1.9" height="1.9" fill="#505050"/><rect x="1335.2" y="228.2" width="1.4" height="1.4" fill="#5a5aff"/><rect x="1340.1" y="228.2" width="1.5" height="1.5" fill="#505050"/><rect x="1462.8" y="273.3" width="1.9" height="1.9" fill="#7a7a7a"/><rect x="1468" y="274" width="1.5" height="1.5" fill="#505050"/><rect x="1473" y="274.5" width="1.5" height="1.5" fill="#505050"/><rect x="1342.8" y="291.3" width="2" height="2" fill="#5a5aff"/><rect x="1519.3" y="319.5" width="1.8" height="1.8" fill="#7a7a7a"/><rect x="1644.3" y="165.9" width="1.6" height="1.6" fill="#505050"/><rect x="1564.7" y="162.3" width="1.5" height="1.5" fill="#505050"/><rect x="1547.3" y="101.7" width="1.7" height="1.7" fill="#505050"/><rect x="1547.6" y="106.7" width="1.7" height="1.7" fill="#505050"/><rect x="1648.3" y="245.5" width="1.6" height="1.6" fill="#505050"/><rect x="1592.9" y="278.2" width="1.4" height="1.4" fill="#505050"/><rect x="1587.8" y="278.9" width="1.6" height="1.6" fill="#505050"/><rect x="1635.5" y="183.6" width="1.9" height="1.9" fill="#505050"/><rect x="1516.4" y="188.2" width="1.6" height="1.6" fill="#505050"/><rect x="1468" y="284.5" width="2" height="2" fill="#505050"/><rect x="1459.4" y="168.3" width="1.4" height="1.4" fill="#505050"/><rect x="1457.8" y="173.1" width="1.3" height="1.3" fill="#7a7a7a"/><rect x="1462.5" y="355.8" width="1.7" height="1.7" fill="#505050"/><rect x="1460" y="358.7" width="1.7" height="1.7" fill="#5a5aff"/><rect x="1444.8" y="271.6" width="1.5" height="1.5" fill="#505050"/><rect x="1460.3" y="318.1" width="1.7" height="1.7" fill="#7a7a7a"/><rect x="1656.3" y="262.1" width="2" height="2" fill="#7a7a7a"/><rect x="1652.9" y="265.8" width="1.9" height="1.9" fill="#505050"/><rect x="1649.4" y="269.3" width="2.1" height="2.1" fill="#7a7a7a"/><rect x="1562.6" y="189.8" width="1.4" height="1.4" fill="#7a7a7a"/><rect x="1384.4" y="256.9" width="1.5" height="1.5" fill="#505050"/><rect x="1565.2" y="343.7" width="1.9" height="1.9" fill="#505050"/><rect x="1357.5" y="232.4" width="1.5" height="1.5" fill="#505050"/><rect x="1563.4" y="174.4" width="2" height="2" fill="#505050"/><rect x="1558.8" y="176" width="1.5" height="1.5" fill="#5a5aff"/><rect x="1391.3" y="362.8" width="1.5" height="1.5" fill="#505050"/><rect x="1394.2" y="366.8" width="1.6" height="1.6" fill="#505050"/><rect x="1397.1" y="370.8" width="1.8" height="1.8" fill="#5a5aff"/><rect x="1495" y="392.8" width="1.6" height="1.6" fill="#505050"/><rect x="1499.3" y="395.7" width="1.3" height="1.3" fill="#5a5aff"/><rect x="1484.2" y="173.7" width="1.6" height="1.6" fill="#7a7a7a"/><rect x="1426.8" y="297.4" width="2" height="2" fill="#505050"/><rect x="1422.8" y="300.2" width="1.4" height="1.4" fill="#505050"/><rect x="1409.5" y="247.3" width="1.5" height="1.5" fill="#505050"/><rect x="1524.6" y="392.9" width="2.1" height="2.1" fill="#5a5aff"/><rect x="1633.6" y="254.1" width="2" height="2" fill="#505050"/><rect x="1629.2" y="256.5" width="1.9" height="1.9" fill="#5a5aff"/><rect x="1531.2" y="166.1" width="1.9" height="1.9" fill="#505050"/><rect x="1457.2" y="116.1" width="1.8" height="1.8" fill="#505050"/><rect x="1375.5" y="259" width="1.8" height="1.8" fill="#505050"/><rect x="1366.2" y="252.9" width="1.7" height="1.7" fill="#505050"/><rect x="1368.5" y="257.6" width="1.4" height="1.4" fill="#505050"/><rect x="1370.5" y="262.1" width="1.4" height="1.4" fill="#505050"/><rect x="1489.4" y="195.7" width="1.4" height="1.4" fill="#505050"/><rect x="1489.8" y="200.4" width="2" height="2" fill="#5a5aff"/><rect x="1490.8" y="205.6" width="1.5" height="1.5" fill="#505050"/><rect x="1351.1" y="244.3" width="1.6" height="1.6" fill="#7a7a7a"/><rect x="1352.8" y="249.1" width="1.4" height="1.4" fill="#7a7a7a"/><rect x="1354.4" y="253.8" width="1.5" height="1.5" fill="#5a5aff"/><rect x="1448.1" y="227.1" width="1.8" height="1.8" fill="#7a7a7a"/><rect x="1443" y="227.3" width="1.9" height="1.9" fill="#7a7a7a"/><rect x="1438.2" y="227.7" width="1.6" height="1.6" fill="#505050"/><rect x="1465" y="178.5" width="1.9" height="1.9" fill="#505050"/><rect x="1547.8" y="89.9" width="1.8" height="1.8" fill="#505050"/><rect x="1371.9" y="352.5" width="2.1" height="2.1" fill="#505050"/><rect x="1558.2" y="196.2" width="1.4" height="1.4" fill="#ff4040"/><rect x="1560.4" y="200.8" width="1.3" height="1.3" fill="#505050"/><rect x="1389.2" y="219.5" width="2" height="2" fill="#505050"/><rect x="1457" y="185" width="2.1" height="2.1" fill="#7a7a7a"/><rect x="1453.9" y="189" width="1.9" height="1.9" fill="#505050"/><rect x="1356.9" y="207.3" width="1.7" height="1.7" fill="#5a5aff"/><rect x="1635.3" y="153.3" width="1.3" height="1.3" fill="#505050"/><rect x="1445.6" y="225.2" width="1.4" height="1.4" fill="#505050"/><rect x="1544.3" y="374" width="2" height="2" fill="#505050"/><rect x="1487.8" y="296.5" width="1.9" height="1.9" fill="#505050"/><rect x="1492.1" y="299.4" width="1.6" height="1.6" fill="#ff4040"/><rect x="1606.2" y="272" width="1.7" height="1.7" fill="#505050"/><rect x="1605.2" y="276.9" width="1.8" height="1.8" fill="#7a7a7a"/><rect x="1476.9" y="416.8" width="2.1" height="2.1" fill="#505050"/><rect x="1472.4" y="418.9" width="2" height="2" fill="#505050"/><rect x="1625.1" y="208" width="1.9" height="1.9" fill="#505050"/></g><clipPath id="bandclip"><polygon points="1404.5,389 1419,373.5 1436.5,370.2 1467.6,347.5 1490,341.5 1491.5,307 1489.5,280 1496,268 1517.1,226 1529,210.2 1530.4,208.2 1546.3,194.3 1555.6,182.3 1562.2,178.4 1571.5,173 1570.2,165.1 1587.4,139.9 1589.4,142.5 1575.5,165.1 1576.8,173 1575.5,178.4 1564.9,182.3 1554.3,194.3 1539.7,210.2 1530,226 1525.8,240 1518.5,255 1512.5,270 1498.1,288.5 1498.8,309.7 1503.4,320.3 1498.1,329.6 1495.5,348.1 1472.3,356.8 1438.5,374.7 1424,378.5 1420.5,376 1406,391"/></clipPath><polygon points="1404.5,389 1419,373.5 1436.5,370.2 1467.6,347.5 1490,341.5 1491.5,307 1489.5,280 1496,268 1517.1,226 1529,210.2 1530.4,208.2 1546.3,194.3 1555.6,182.3 1562.2,178.4 1571.5,173 1570.2,165.1 1587.4,139.9 1589.4,142.5 1575.5,165.1 1576.8,173 1575.5,178.4 1564.9,182.3 1554.3,194.3 1539.7,210.2 1530,226 1525.8,240 1518.5,255 1512.5,270 1498.1,288.5 1498.8,309.7 1503.4,320.3 1498.1,329.6 1495.5,348.1 1472.3,356.8 1438.5,374.7 1424,378.5 1420.5,376 1406,391" fill="#0000ff"/><g clip-path="url(#bandclip)"><polygon points="1415,360 1437,360 1440,390 1415,390" fill="#ff0000"/><path d="M1437 366 L1439 382" stroke="#00c040" stroke-width="2.2"/><path d="M1435 366 L1437 382" stroke="#111" stroke-width="1.6"/><path d="M1478 338 L1480 364" stroke="#00ffe8" stroke-width="6"/><path d="M1484 338 L1486 364" stroke="#00c8ff" stroke-width="4"/><path d="M1465 345 L1475 362" stroke="#000" stroke-width="2.4"/><path d="M1468.5 343.5 L1478.5 360.5" stroke="#000" stroke-width="1.4"/><path d="M1486 338 L1500 352" stroke="#000" stroke-width="2.4"/><path d="M1486 300 L1502 312" stroke="#000" stroke-width="2.2"/><path d="M1486 305 L1504 318" stroke="#000" stroke-width="2.2"/><path d="M1488 311 L1506 323" stroke="#000" stroke-width="1.6"/><path d="M1486 276 L1500 288" stroke="#000" stroke-width="2.2"/><path d="M1496 262 L1516 272" stroke="#000" stroke-width="2.4"/><path d="M1520 205 L1540 218" stroke="#000" stroke-width="2.4"/><path d="M1522 201 L1542 214" stroke="#000" stroke-width="2.2"/><path d="M1518 210 L1536 222" stroke="#000" stroke-width="1.8"/><path d="M1544 188 L1558 199" stroke="#000" stroke-width="2.4"/><path d="M1550 182 L1566 193" stroke="#000" stroke-width="2"/><path d="M1566 168 L1580 176" stroke="#000" stroke-width="2.4"/><path d="M1566 162 L1578 170" stroke="#000" stroke-width="1.4"/></g><circle cx="1593" cy="136.8" r="5.5" fill="#ff0000"/><path d="M1596 138.5 L1618 139.5" stroke="#ff0000" stroke-width="1.4"/><path d="M1617.5 139.5 L1613.5 117" stroke="#ff0000" stroke-width="1.2"/><path d="M1619 140 L1624 144" stroke="#40e0ff" stroke-width="1.2"/><circle cx="1617.5" cy="139.5" r="1.5" fill="#222"/><rect x="1556.2" y="106.9" width="85.3" height="71.7" fill="none" stroke="#ff0000" stroke-width="3"/><path d="M1556 180 L1521 271 M1642 180 L1688 271" stroke="#ff0000" stroke-width="2.6" fill="none"/><rect x="1521" y="270.8" width="167.2" height="156.3" fill="#ffffff"/><polygon points="1596.7,271 1688.2,271 1688.2,344.5 1660,321 1631,298.5" fill="#1d2c46"/><polygon points="1537,427 1555.5,427 1577,383.5 1570.2,373.8" fill="#0000ff"/><polygon points="1570.2,373.8 1577,383.5 1578.6,382.8 1571.8,373.2" fill="#00b4ff"/><polygon points="1571.8,373.2 1578.6,382.8 1580,382.2 1573.3,372.8" fill="#00e8e8"/><polygon points="1573.3,372.8 1580,382.2 1581.4,381.6 1574.8,372.5" fill="#111"/><polygon points="1574.8,372.5 1581.4,381.6 1582.8,381 1576.2,372.3" fill="#e6ff00"/><polygon points="1576.2,372.3 1582.8,381 1648.5,377.8 1648.5,375.5" fill="#ff0000"/><polygon points="1644.5,376.5 1651.5,376.8 1631,299.5 1629.5,299.5" fill="#ff0000"/><path d="M1651.5 377.5 L1674 396" stroke="#40e8ff" stroke-width="1"/><path d="M1570 373 L1543 355.5" stroke="#7a7aff" stroke-width="0.8"/><path d="M1533 322 L1608 297" stroke="#ff8080" stroke-width="0.8" stroke-dasharray="1.5,5"/><path d="M1674 396 L1669 425 M1674 396 L1686 392" stroke="#ff8080" stroke-width="0.8" stroke-dasharray="1.5,3"/><rect x="1521" y="270.8" width="167.2" height="156.3" fill="none" stroke="#ff0000" stroke-width="3.2"/><g font-family="'Liberation Sans', Arial, sans-serif" fill="#ffffff"><text x="1315" y="119" font-size="62">(</text><text x="1331.8" y="118.3" font-size="60">b</text><text x="1368.4" y="119" font-size="62">)</text></g><rect x="1696" y="122.5" width="38.5" height="306" fill="#c8ccd4"/><rect x="1697.2" y="124.3" width="36.2" height="23.7" fill="#ff0000"/><rect x="1697.2" y="149.6" width="36.2" height="23.7" fill="#ff5d00"/><rect x="1697.2" y="175" width="36.2" height="23.7" fill="#ffb900"/><rect x="1697.2" y="200.3" width="36.2" height="23.7" fill="#e8ff00"/><rect x="1697.2" y="225.6" width="36.2" height="23.7" fill="#8bff00"/><rect x="1697.2" y="251" width="36.2" height="23.7" fill="#2eff00"/><rect x="1697.2" y="276.3" width="36.2" height="23.7" fill="#00ff2e"/><rect x="1697.2" y="301.6" width="36.2" height="23.7" fill="#00ff8b"/><rect x="1697.2" y="327" width="36.2" height="23.7" fill="#00ffe8"/><rect x="1697.2" y="352.3" width="36.2" height="23.7" fill="#00b9ff"/><rect x="1697.2" y="377.6" width="36.2" height="23.7" fill="#005dff"/><rect x="1697.2" y="403" width="36.2" height="23.7" fill="#0000ff"/><rect x="1734" y="122.6" width="12.3" height="1.8" fill="#d0d4da"/><text x="1759.5" y="129.7" font-family="'DejaVu Sans Condensed', 'DejaVu Sans', sans-serif" font-size="26.5" fill="#f2f3f5" textLength="40" lengthAdjust="spacingAndGlyphs">1.0</text><rect x="1734" y="147.9" width="12.3" height="1.8" fill="#d0d4da"/><text x="1759.5" y="155" font-family="'DejaVu Sans Condensed', 'DejaVu Sans', sans-serif" font-size="26.5" fill="#f2f3f5" textLength="40" lengthAdjust="spacingAndGlyphs">0.9</text><rect x="1734" y="173.3" width="12.3" height="1.8" fill="#d0d4da"/><text x="1759.5" y="180.4" font-family="'DejaVu Sans Condensed', 'DejaVu Sans', sans-serif" font-size="26.5" fill="#f2f3f5" textLength="40" lengthAdjust="spacingAndGlyphs">0.8</text><rect x="1734" y="198.6" width="12.3" height="1.8" fill="#d0d4da"/><text x="1759.5" y="205.7" font-family="'DejaVu Sans Condensed', 'DejaVu Sans', sans-serif" font-size="26.5" fill="#f2f3f5" textLength="40" lengthAdjust="spacingAndGlyphs">0.7</text><rect x="1734" y="223.9" width="12.3" height="1.8" fill="#d0d4da"/><text x="1759.5" y="231" font-family="'DejaVu Sans Condensed', 'DejaVu Sans', sans-serif" font-size="26.5" fill="#f2f3f5" textLength="40" lengthAdjust="spacingAndGlyphs">0.7</text><rect x="1734" y="249.3" width="12.3" height="1.8" fill="#d0d4da"/><text x="1759.5" y="256.4" font-family="'DejaVu Sans Condensed', 'DejaVu Sans', sans-serif" font-size="26.5" fill="#f2f3f5" textLength="40" lengthAdjust="spacingAndGlyphs">0.6</text><rect x="1734" y="274.6" width="12.3" height="1.8" fill="#d0d4da"/><text x="1759.5" y="281.7" font-family="'DejaVu Sans Condensed', 'DejaVu Sans', sans-serif" font-size="26.5" fill="#f2f3f5" textLength="40" lengthAdjust="spacingAndGlyphs">0.5</text><rect x="1734" y="299.9" width="12.3" height="1.8" fill="#d0d4da"/><text x="1759.5" y="307" font-family="'DejaVu Sans Condensed', 'DejaVu Sans', sans-serif" font-size="26.5" fill="#f2f3f5" textLength="40" lengthAdjust="spacingAndGlyphs">0.4</text><rect x="1734" y="325.3" width="12.3" height="1.8" fill="#d0d4da"/><text x="1759.5" y="332.4" font-family="'DejaVu Sans Condensed', 'DejaVu Sans', sans-serif" font-size="26.5" fill="#f2f3f5" textLength="40" lengthAdjust="spacingAndGlyphs">0.3</text><rect x="1734" y="350.6" width="12.3" height="1.8" fill="#d0d4da"/><text x="1759.5" y="357.7" font-family="'DejaVu Sans Condensed', 'DejaVu Sans', sans-serif" font-size="26.5" fill="#f2f3f5" textLength="40" lengthAdjust="spacingAndGlyphs">0.3</text><rect x="1734" y="375.9" width="12.3" height="1.8" fill="#d0d4da"/><text x="1759.5" y="383" font-family="'DejaVu Sans Condensed', 'DejaVu Sans', sans-serif" font-size="26.5" fill="#f2f3f5" textLength="40" lengthAdjust="spacingAndGlyphs">0.2</text><rect x="1734" y="401.3" width="12.3" height="1.8" fill="#d0d4da"/><text x="1759.5" y="408.4" font-family="'DejaVu Sans Condensed', 'DejaVu Sans', sans-serif" font-size="26.5" fill="#f2f3f5" textLength="40" lengthAdjust="spacingAndGlyphs">0.1</text><rect x="1734" y="426.6" width="12.3" height="1.8" fill="#d0d4da"/><text x="1759.5" y="433.7" font-family="'DejaVu Sans Condensed', 'DejaVu Sans', sans-serif" font-size="26.5" fill="#f2f3f5" textLength="40" lengthAdjust="spacingAndGlyphs">0.0</text><text transform="translate(1708 81.3) skewX(-16) scale(0.7 0.93)" x="0" y="0" font-family="IPAGothic, serif" font-size="90" fill="#000">γ</text>
<g font-family="'Liberation Sans', Arial, sans-serif"><rect x="186.1" y="532.4" width="601.2" height="484.8" fill="none" stroke="#000" stroke-width="2.8"/><path d="M186.8 1017 V1008.6 M186.8 532.4 V540.8 M426.8 1017 V1008.6 M426.8 532.4 V540.8 M666.8 1017 V1008.6 M666.8 532.4 V540.8 M306.8 1017 V1012.6 M306.8 532.4 V536.8 M546.8 1017 V1012.6 M546.8 532.4 V536.8 M186 557.8 H195.4 M186 621.7 H195.4 M186 685.6 H195.4 M186 749.5 H195.4 M186 813.4 H195.4 M186 877.3 H195.4 M186 941.2 H195.4 M186 1005.1 H195.4 M186 589.8 H191.2 M186 653.6 H191.2 M186 717.5 H191.2 M186 781.4 H191.2 M186 845.4 H191.2 M186 909.2 H191.2 M186 973.1 H191.2 M787.3 995 H778.4 M787.3 553.7 H778.4 M787.3 774.4 H782.6" stroke="#000" stroke-width="2.7" fill="none"/><text x="175" y="567.4" font-size="32" text-anchor="end">100</text><text x="175" y="631.3" font-size="32" text-anchor="end">75</text><text x="175" y="695.2" font-size="32" text-anchor="end">50</text><text x="175" y="759.1" font-size="32" text-anchor="end">25</text><text x="175" y="823" font-size="32" text-anchor="end">0</text><text x="175" y="886.9" font-size="32" text-anchor="end">-25</text><text x="175" y="950.8" font-size="32" text-anchor="end">-50</text><text x="175" y="1014.7" font-size="32" text-anchor="end">-75</text><text x="186.3" y="1052" font-size="32" text-anchor="middle">0</text><text x="426.3" y="1052" font-size="32" text-anchor="middle">200</text><text x="666.3" y="1052" font-size="32" text-anchor="middle">400</text><text x="798" y="563.3" font-size="32">1</text><text x="798" y="1004.6" font-size="32">0</text><text x="486" y="1113.4" font-size="40.5" text-anchor="middle">time (s)</text><text transform="translate(102.6 774.3) rotate(-90)" font-size="41.5" text-anchor="middle">stress (MPa)</text><text transform="translate(858 770) rotate(-90)" font-size="41" text-anchor="middle">d</text><text x="6.5" y="599.3" font-size="61">(c)</text><g clip-path="url(#clipC)"><path d="M187 836.5 L192.6 830 L213.2 804.4 L249.5 748.2 L285.6 697 L321.1 646.1 L357.2 601.5 L393.5 557.2 L429.3 560.7 L465.1 565.2 L501.2 568.3 L537.4 571.7 L574.2 575.4 L586.1 576.8 L586.1 577.1 L598.7 595.7 L608.2 632.3 L613 698.5 L613 698.5 L633.8 891.4 L647.6 891.4 L658.2 905.2 L669.9 813.5 L800 813.5" stroke="#ff0000" stroke-width="2.9" fill="none" stroke-linejoin="miter"/><polygon points="192.6,819.8 183.1,836.1 202.1,836.1" fill="#ff0000"/><polygon points="213.2,794.2 203.7,810.5 222.7,810.5" fill="#ff0000"/><polygon points="249.5,738 240,754.3 259,754.3" fill="#ff0000"/><polygon points="285.6,686.8 276.1,703.1 295.1,703.1" fill="#ff0000"/><polygon points="321.1,635.9 311.6,652.2 330.6,652.2" fill="#ff0000"/><polygon points="357.2,591.3 347.7,607.6 366.7,607.6" fill="#ff0000"/><polygon points="393.5,547 384,563.3 403,563.3" fill="#ff0000"/><polygon points="429.3,550.5 419.8,566.8 438.8,566.8" fill="#ff0000"/><polygon points="465.1,555 455.6,571.3 474.6,571.3" fill="#ff0000"/><polygon points="501.2,558.1 491.7,574.4 510.7,574.4" fill="#ff0000"/><polygon points="537.4,561.5 527.9,577.8 546.9,577.8" fill="#ff0000"/><polygon points="574.2,565.2 564.7,581.5 583.7,581.5" fill="#ff0000"/><polygon points="610.2,632.2 600.7,648.5 619.7,648.5" fill="#ff0000"/><polygon points="645.5,881.2 636,897.5 655,897.5" fill="#ff0000"/><polygon points="681.5,804.3 672,820.6 691,820.6" fill="#ff0000"/><polygon points="717.7,804.3 708.2,820.6 727.2,820.6" fill="#ff0000"/><polygon points="753.9,804.3 744.4,820.6 763.4,820.6" fill="#ff0000"/><polygon points="786.8,804.3 777.3,820.6 796.3,820.6" fill="#ff0000"/><path d="M186.8 818 C187.2 815 187.8 805.1 189 800 C190.2 794.9 191.8 791.1 194 787.5 C196.2 783.9 198.8 781 202 778.5 C205.2 776 208.9 773.8 212.9 772.6 C216.9 771.4 220 770.2 226 771.2 C232 772.2 242.5 775.9 249 778.9 C255.5 781.9 259.1 784.5 265 789 C270.9 793.5 278.4 798.7 284.6 806 C290.8 813.3 295.9 823.5 302 833 C308.1 842.5 314.7 854.2 320.9 863 C327.1 871.8 333 878.5 339 885.5 C345 892.5 351 899 357 904.8 C363 910.6 368.9 915.7 375 920.5 C381.1 925.3 387.3 929.3 393.3 933.6 C399.3 937.9 405 942.6 411 946.5 C417 950.4 423.4 954 429.4 957 C435.4 960 441.1 962.3 447 964.5 C452.9 966.7 459.1 968.3 465.1 970.3 C471.1 972.3 477 974.6 483 976.5 C489 978.4 495.2 979.9 501.2 981.6 C507.2 983.3 513 985.2 519 986.8 C525 988.4 531.3 990.1 537.3 991.1 C543.3 992.1 549 992.7 555 993 C561 993.3 570.3 992.8 573.4 992.8 L573.4 992.8 L586.1 984.8 L609.9 786.4 L633.6 590.4 L646 620.5 L657.7 558.4 L669.6 813.5 L800 813.5" stroke="#00a2ff" stroke-width="2.9" fill="none" stroke-linejoin="round"/><circle cx="187" cy="813" r="7.9" fill="#00a2ff"/><circle cx="187.5" cy="806" r="7.9" fill="#00a2ff"/><circle cx="188.5" cy="797.5" r="7.9" fill="#00a2ff"/><circle cx="194.6" cy="787.4" r="7.9" fill="#00a2ff"/><circle cx="212.9" cy="772.6" r="7.9" fill="#00a2ff"/><circle cx="249" cy="778.9" r="7.9" fill="#00a2ff"/><circle cx="284.6" cy="805.5" r="7.9" fill="#00a2ff"/><circle cx="320.9" cy="863" r="7.9" fill="#00a2ff"/><circle cx="357" cy="904.8" r="7.9" fill="#00a2ff"/><circle cx="393.3" cy="933.6" r="7.9" fill="#00a2ff"/><circle cx="429.4" cy="957" r="7.9" fill="#00a2ff"/><circle cx="465.1" cy="970.3" r="7.9" fill="#00a2ff"/><circle cx="501.2" cy="981.6" r="7.9" fill="#00a2ff"/><circle cx="537.3" cy="991.1" r="7.9" fill="#00a2ff"/><circle cx="573.4" cy="992.8" r="7.9" fill="#00a2ff"/><circle cx="609.9" cy="786.4" r="7.9" fill="#00a2ff"/><circle cx="646.4" cy="621.2" r="7.9" fill="#00a2ff"/><circle cx="681.5" cy="813.5" r="7.9" fill="#00a2ff"/><circle cx="717.7" cy="813.5" r="7.9" fill="#00a2ff"/><circle cx="753.9" cy="813.5" r="7.9" fill="#00a2ff"/><circle cx="786.8" cy="813.5" r="7.9" fill="#00a2ff"/><path d="M186.8 995 L392.6 995 L392.6 995 C393.1 993.2 394.4 988.5 395.5 984 C396.6 979.5 398 974 399.5 968 C401 962 402.7 955.7 404.5 948 C406.3 940.3 408.3 931 410.5 922 C412.7 913 414.4 905.2 417.5 894 C420.6 882.8 425.7 864.3 429 854.7 C432.3 845.1 434.6 842.8 437.5 836.2 C440.4 829.6 442.1 823.9 446.7 815 C451.3 806.1 459.4 792.2 465 783 C470.6 773.8 474 767.5 480 760 C486 752.5 494.5 744.3 501.2 738.1 C507.9 731.9 514 727.7 520 723 C526 718.3 531.4 713.8 537.4 709.8 C543.4 705.8 550 702.2 556 699 C562 695.8 564.6 691.9 573.4 690.5 C582.2 689.1 602.8 690.5 608.7 690.5 L608.7 690.5 C609.6 690.4 612.3 690.7 614 690 C615.7 689.3 616.9 689 618.7 686.5 C620.5 684 622.9 679.6 625 675 C627.1 670.4 629.1 665.7 631.4 658.8 C633.6 651.9 636.6 640.9 638.5 633.4 C640.4 625.9 641.7 618.6 643 614 C644.3 609.4 645 608.2 646.5 606 C648 603.8 650.1 602.2 652 601 C653.9 599.8 653.1 599.4 658 599 C662.9 598.6 657.8 598.7 681.5 598.6 C705.2 598.5 780.2 598.6 800 598.6" stroke="#000" stroke-width="2.6" fill="none" stroke-linejoin="round"/><rect x="186.7" y="988.1" width="13.8" height="13.8" fill="#000"/><rect x="206" y="988.1" width="13.8" height="13.8" fill="#000"/><rect x="241.6" y="988.1" width="13.8" height="13.8" fill="#000"/><rect x="277.7" y="988.1" width="13.8" height="13.8" fill="#000"/><rect x="313.8" y="988.1" width="13.8" height="13.8" fill="#000"/><rect x="349.7" y="988.1" width="13.8" height="13.8" fill="#000"/><rect x="385.7" y="988.1" width="13.8" height="13.8" fill="#000"/><rect x="422.1" y="847.8" width="13.8" height="13.8" fill="#000"/><rect x="458.1" y="776.1" width="13.8" height="13.8" fill="#000"/><rect x="494.3" y="731.2" width="13.8" height="13.8" fill="#000"/><rect x="530.5" y="702.9" width="13.8" height="13.8" fill="#000"/><rect x="566.5" y="683.6" width="13.8" height="13.8" fill="#000"/><rect x="601.8" y="683.6" width="13.8" height="13.8" fill="#000"/><rect x="638.6" y="597.6" width="13.8" height="13.8" fill="#000"/><rect x="674.6" y="591.7" width="13.8" height="13.8" fill="#000"/><rect x="710.8" y="591.7" width="13.8" height="13.8" fill="#000"/><rect x="747" y="591.7" width="13.8" height="13.8" fill="#000"/><rect x="779.9" y="591.7" width="13.8" height="13.8" fill="#000"/></g><path d="M282.3 616.8 L321.9 616.8" stroke="#ff0000" stroke-width="3.2"/><polygon points="258.8,615.7 283.3,611.4 283.3,622.2 258.8,617.9" fill="#ff0000"/><path d="M295.5 903.2 L337 903.2" stroke="#00a2ff" stroke-width="3.2"/><polygon points="272,902.1 296.5,897.8 296.5,908.6 272,904.3" fill="#00a2ff"/><path d="M740 627.2 L693.6 627.2" stroke="#000" stroke-width="2.8"/><polygon points="763.5,626.1 739,621.8 739,632.6 763.5,628.3" fill="#000"/><path d="M347.7 623.5 H416.2" stroke="#ff0000" stroke-width="3"/><polygon points="381.8,613.3 372.3,629.6 391.3,629.6" fill="#ff0000"/><path d="M347.7 659.7 H416.2" stroke="#00a2ff" stroke-width="3"/><circle cx="381.8" cy="659.7" r="7.9" fill="#00a2ff"/><path d="M347.7 696.5 H416.2" stroke="#000" stroke-width="2.8"/><rect x="375.2" y="689.6" width="13.8" height="13.8" fill="#000"/><text x="423" y="633.8" font-size="30" fill="#ff0000">shear stress</text><text x="423" y="670" font-size="30" fill="#00a2ff">normal stress</text><text x="423" y="706.2" font-size="30" fill="#000">d</text></g>
<g font-family="'Liberation Sans', Arial, sans-serif"><rect x="1071.6" y="531.6" width="601.7" height="484.4" fill="none" stroke="#000" stroke-width="2.8"/><path d="M1102.7 1016 V1007.6 M1102.7 531.6 V540 M1292.9 1016 V1007.6 M1292.9 531.6 V540 M1483.1 1016 V1007.6 M1483.1 531.6 V540 M1071.6 556.8 H1080.6 M1071.6 658.9 H1080.6 M1071.6 761 H1080.6 M1071.6 863.2 H1080.6 M1071.6 965.3 H1080.6 M1071.6 607.9 H1076.4 M1071.6 710 H1076.4 M1071.6 812.1 H1076.4 M1071.6 914.2 H1076.4 M1673.3 600.4 H1664.3 M1673.3 773.6 H1664.3 M1673.3 946.8 H1664.3" stroke="#000" stroke-width="2.7" fill="none"/><text x="1061" y="566.4" font-size="32" text-anchor="end">100</text><text x="1061" y="668.5" font-size="32" text-anchor="end">60</text><text x="1061" y="770.6" font-size="32" text-anchor="end">20</text><text x="1061" y="872.8" font-size="32" text-anchor="end">-20</text><text x="1061" y="974.9" font-size="32" text-anchor="end">-60</text><text x="1102.7" y="1051.5" font-size="32" text-anchor="middle">0.0</text><text x="1292.9" y="1051.5" font-size="32" text-anchor="middle">0.3</text><text x="1483.1" y="1051.5" font-size="32" text-anchor="middle">0.6</text><text x="1673.3" y="1051.5" font-size="32" text-anchor="middle">0.9</text><text x="1684" y="610" font-size="32">1.0</text><text x="1684" y="783.2" font-size="32">0.5</text><text x="1684" y="956.4" font-size="32">0.0</text><text x="1377" y="1090" font-size="41" text-anchor="middle">d</text><text transform="translate(988.6 774.3) rotate(-90)" font-size="41.5" text-anchor="middle">stress (MPa)</text><text transform="translate(1766.2 776.6) rotate(-90)" font-size="46.6" font-family="'Noto Serif CJK SC', serif" text-anchor="middle">γ</text><text x="880" y="584.6" font-size="61.5">(d)</text><g clip-path="url(#clipD)"><path d="M1103.2 845 L1103.2 573.8 L1103.3 557.6 L1110 557.4 L1174 557.6 L1249 557.9 L1345.3 561.3 L1406.5 563.4 L1452.8 566.2 L1486.5 568.9 L1512 571.1 L1530.4 573.3 L1540 574.4 L1540 641 L1540 668 M1540 786 L1599 889.8 L1664.6 888.5 L1680 912" stroke="#ff0000" stroke-width="2.9" fill="none" stroke-linejoin="round"/><polygon points="1103.2,821.4 1093.7,837.7 1112.7,837.7" fill="#ff0000"/><polygon points="1103.2,807.8 1093.7,824.1 1112.7,824.1" fill="#ff0000"/><polygon points="1103.2,795.8 1093.7,812.1 1112.7,812.1" fill="#ff0000"/><polygon points="1103.2,781.8 1093.7,798.1 1112.7,798.1" fill="#ff0000"/><polygon points="1103.2,768.8 1093.7,785.1 1112.7,785.1" fill="#ff0000"/><polygon points="1103.2,755.8 1093.7,772.1 1112.7,772.1" fill="#ff0000"/><polygon points="1103.2,722.7 1093.7,739 1112.7,739" fill="#ff0000"/><polygon points="1103.2,686.9 1093.7,703.2 1112.7,703.2" fill="#ff0000"/><polygon points="1103.2,651.1 1093.7,667.4 1112.7,667.4" fill="#ff0000"/><polygon points="1103.2,620.6 1093.7,636.9 1112.7,636.9" fill="#ff0000"/><polygon points="1103.2,563.6 1093.7,579.9 1112.7,579.9" fill="#ff0000"/><polygon points="1109.8,547.3 1100.3,563.6 1119.3,563.6" fill="#ff0000"/><polygon points="1249,548.3 1239.5,564.6 1258.5,564.6" fill="#ff0000"/><polygon points="1345.3,551.6 1335.8,567.9 1354.8,567.9" fill="#ff0000"/><polygon points="1406.5,553.8 1397,570.1 1416,570.1" fill="#ff0000"/><polygon points="1452.8,556.6 1443.3,572.9 1462.3,572.9" fill="#ff0000"/><polygon points="1486.5,559.3 1477,575.6 1496,575.6" fill="#ff0000"/><polygon points="1512,561.5 1502.5,577.8 1521.5,577.8" fill="#ff0000"/><polygon points="1530.4,563.7 1520.9,580 1539.9,580" fill="#ff0000"/><polygon points="1540,564.8 1530.5,581.1 1549.5,581.1" fill="#ff0000"/><polygon points="1539.4,631.3 1529.9,647.6 1548.9,647.6" fill="#ff0000"/><polygon points="1599,879.6 1589.5,895.9 1608.5,895.9" fill="#ff0000"/><polygon points="1671,890.8 1661.5,907.1 1680.5,907.1" fill="#ff0000"/><path d="M1103 772 L1103 923.2 L1109.6 941 L1174 941 L1248.2 949.2 L1344.8 961 L1406.6 970.2 L1452.9 978.1 L1486.3 983.8 L1511.6 989.5 L1530.9 991.2 L1535.8 988.8 L1540.3 982.6 L1540 675.3 L1598.9 589 L1664.7 619.1 L1671.5 557.4 L1675 540" stroke="#00a2ff" stroke-width="2.9" fill="none" stroke-linejoin="round"/><circle cx="1103" cy="773" r="7.9" fill="#00a2ff"/><circle cx="1103" cy="776.5" r="7.9" fill="#00a2ff"/><circle cx="1103" cy="780" r="7.9" fill="#00a2ff"/><circle cx="1103" cy="783.5" r="7.9" fill="#00a2ff"/><circle cx="1103" cy="787" r="7.9" fill="#00a2ff"/><circle cx="1103" cy="790.5" r="7.9" fill="#00a2ff"/><circle cx="1103" cy="794" r="7.9" fill="#00a2ff"/><circle cx="1103" cy="797.5" r="7.9" fill="#00a2ff"/><circle cx="1103" cy="801" r="7.9" fill="#00a2ff"/><circle cx="1103" cy="804.5" r="7.9" fill="#00a2ff"/><circle cx="1103" cy="808.5" r="7.9" fill="#00a2ff"/><circle cx="1103" cy="845.2" r="7.9" fill="#00a2ff"/><circle cx="1103" cy="877.4" r="7.9" fill="#00a2ff"/><circle cx="1103" cy="903.9" r="7.9" fill="#00a2ff"/><circle cx="1103" cy="923.2" r="7.9" fill="#00a2ff"/><circle cx="1109.6" cy="941" r="7.9" fill="#00a2ff"/><circle cx="1248.2" cy="949.2" r="7.9" fill="#00a2ff"/><circle cx="1344.8" cy="961" r="7.9" fill="#00a2ff"/><circle cx="1406.6" cy="970.2" r="7.9" fill="#00a2ff"/><circle cx="1452.9" cy="978.1" r="7.9" fill="#00a2ff"/><circle cx="1486.3" cy="983.8" r="7.9" fill="#00a2ff"/><circle cx="1511.6" cy="989.5" r="7.9" fill="#00a2ff"/><circle cx="1530.9" cy="991.2" r="7.9" fill="#00a2ff"/><circle cx="1535.8" cy="988.8" r="7.9" fill="#00a2ff"/><circle cx="1540.3" cy="982.6" r="7.9" fill="#00a2ff"/><circle cx="1539.8" cy="785.8" r="7.9" fill="#00a2ff"/><circle cx="1598.9" cy="589" r="7.9" fill="#00a2ff"/><circle cx="1671.5" cy="557.4" r="7.9" fill="#00a2ff"/><circle cx="1673" cy="812.3" r="7.9" fill="#00a2ff"/><path d="M1101.8 600.3 L1539.1 600.3 L1540 604 L1540 669.8 L1598.9 773.1 L1663.3 818.7 L1670.7 850 L1676 870" stroke="#000" stroke-width="2.6" fill="none" stroke-linejoin="round"/><rect x="1094.9" y="593.4" width="13.8" height="13.8" fill="#000"/><rect x="1102.9" y="593.4" width="13.8" height="13.8" fill="#000"/><rect x="1240.8" y="593.4" width="13.8" height="13.8" fill="#000"/><rect x="1337.6" y="593.4" width="13.8" height="13.8" fill="#000"/><rect x="1398.7" y="593.1" width="13.8" height="13.8" fill="#000"/><rect x="1445.3" y="593.1" width="13.8" height="13.8" fill="#000"/><rect x="1479.1" y="593.1" width="13.8" height="13.8" fill="#000"/><rect x="1504.8" y="593.1" width="13.8" height="13.8" fill="#000"/><rect x="1522.9" y="593.1" width="13.8" height="13.8" fill="#000"/><rect x="1532.2" y="593.4" width="13.8" height="13.8" fill="#000"/><rect x="1533.1" y="599.6" width="13.8" height="13.8" fill="#000"/><rect x="1592" y="766.2" width="13.8" height="13.8" fill="#000"/><rect x="1665.1" y="843.1" width="13.8" height="13.8" fill="#000"/></g><path d="M1150.5 575.9 L1192 575.9" stroke="#ff0000" stroke-width="3.2"/><polygon points="1127,574.8 1151.5,570.5 1151.5,581.3 1127,577" fill="#ff0000"/><path d="M1146.7 963.5 L1188 963.5" stroke="#00a2ff" stroke-width="3.2"/><polygon points="1123.2,962.4 1147.7,958.1 1147.7,968.9 1123.2,964.6" fill="#00a2ff"/><path d="M1634.5 722.7 L1588 722.7" stroke="#000" stroke-width="2.8"/><polygon points="1658,721.6 1633.5,717.3 1633.5,728.1 1658,723.8" fill="#000"/><path d="M1223.4 802.2 H1291.5" stroke="#ff0000" stroke-width="3"/><polygon points="1257.4,792 1247.9,808.3 1266.9,808.3" fill="#ff0000"/><path d="M1223.4 839 H1291.5" stroke="#00a2ff" stroke-width="3"/><circle cx="1257.4" cy="839" r="7.9" fill="#00a2ff"/><path d="M1223.4 878.6 H1291.5" stroke="#000" stroke-width="2.8"/><rect x="1250.5" y="871.7" width="13.8" height="13.8" fill="#000"/><text x="1299.5" y="812.6" font-size="30" fill="#ff0000">shear stress</text><text x="1299.5" y="849.2" font-size="30" fill="#00a2ff">normal stress</text><text x="1298.7" y="889.4" font-size="29.6" font-family="'Noto Serif CJK SC', serif" fill="#000">γ</text></g>
</svg>
</body></html>
